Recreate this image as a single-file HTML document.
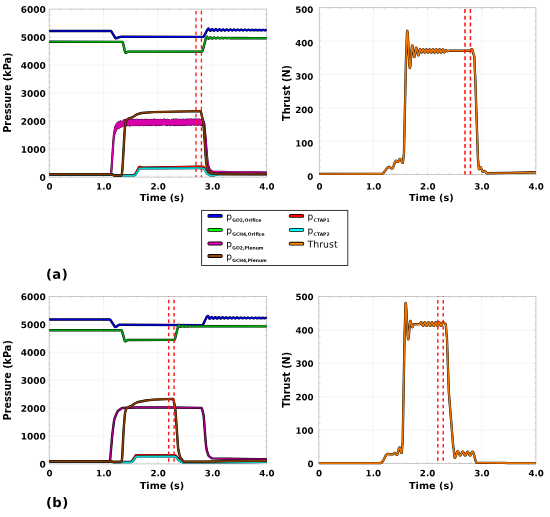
<!DOCTYPE html>
<html><head><meta charset="utf-8"><title>Figure</title>
<style>html,body{margin:0;padding:0;background:#fff}svg{display:block}</style></head>
<body><svg width="550" height="517" viewBox="0 0 550 517">
<rect width="550" height="517" fill="#fff"/>
<path d="M103.58 9.10V177.10M157.95 9.10V177.10M212.32 9.10V177.10M49.20 149.10H266.70M49.20 121.10H266.70M49.20 93.10H266.70M49.20 65.10H266.70M49.20 37.10H266.70" stroke="#f3f3f3" stroke-width="0.8" fill="none"/>
<path d="M60.08 177.10v-1.6M60.08 9.10v1.6M70.95 177.10v-1.6M70.95 9.10v1.6M81.83 177.10v-1.6M81.83 9.10v1.6M92.70 177.10v-1.6M92.70 9.10v1.6M103.58 177.10v-1.6M103.58 9.10v1.6M114.45 177.10v-1.6M114.45 9.10v1.6M125.33 177.10v-1.6M125.33 9.10v1.6M136.20 177.10v-1.6M136.20 9.10v1.6M147.07 177.10v-1.6M147.07 9.10v1.6M157.95 177.10v-1.6M157.95 9.10v1.6M168.83 177.10v-1.6M168.83 9.10v1.6M179.70 177.10v-1.6M179.70 9.10v1.6M190.57 177.10v-1.6M190.57 9.10v1.6M201.45 177.10v-1.6M201.45 9.10v1.6M212.32 177.10v-1.6M212.32 9.10v1.6M223.20 177.10v-1.6M223.20 9.10v1.6M234.08 177.10v-1.6M234.08 9.10v1.6M244.95 177.10v-1.6M244.95 9.10v1.6M255.83 177.10v-1.6M255.83 9.10v1.6M49.20 171.50h1.6M266.70 171.50h-1.6M49.20 165.90h1.6M266.70 165.90h-1.6M49.20 160.30h1.6M266.70 160.30h-1.6M49.20 154.70h1.6M266.70 154.70h-1.6M49.20 149.10h1.6M266.70 149.10h-1.6M49.20 143.50h1.6M266.70 143.50h-1.6M49.20 137.90h1.6M266.70 137.90h-1.6M49.20 132.30h1.6M266.70 132.30h-1.6M49.20 126.70h1.6M266.70 126.70h-1.6M49.20 121.10h1.6M266.70 121.10h-1.6M49.20 115.50h1.6M266.70 115.50h-1.6M49.20 109.90h1.6M266.70 109.90h-1.6M49.20 104.30h1.6M266.70 104.30h-1.6M49.20 98.70h1.6M266.70 98.70h-1.6M49.20 93.10h1.6M266.70 93.10h-1.6M49.20 87.50h1.6M266.70 87.50h-1.6M49.20 81.90h1.6M266.70 81.90h-1.6M49.20 76.30h1.6M266.70 76.30h-1.6M49.20 70.70h1.6M266.70 70.70h-1.6M49.20 65.10h1.6M266.70 65.10h-1.6M49.20 59.50h1.6M266.70 59.50h-1.6M49.20 53.90h1.6M266.70 53.90h-1.6M49.20 48.30h1.6M266.70 48.30h-1.6M49.20 42.70h1.6M266.70 42.70h-1.6M49.20 37.10h1.6M266.70 37.10h-1.6M49.20 31.50h1.6M266.70 31.50h-1.6M49.20 25.90h1.6M266.70 25.90h-1.6M49.20 20.30h1.6M266.70 20.30h-1.6M49.20 14.70h1.6M266.70 14.70h-1.6" stroke="#b8b8b8" stroke-width="0.6" fill="none"/>
<rect x="49.20" y="9.10" width="217.50" height="168.00" fill="none" stroke="#bcbcbc" stroke-width="0.8"/>
<path d="M49.20 31L110.64 31.01L111.08 31.14L111.51 31.60L115.10 37.72L115.54 38.23L115.86 38.33L116.30 38.24L120.11 36.94L120.98 36.82L203.08 36.89L203.52 36.74L203.95 36.22L207.43 29.60L207.65 29.34L207.87 29.22L208.08 29.21L208.41 29.33L208.52 28.48L208.95 28.94L209.82 30.42L210.15 30.71L210.37 30.75L210.58 30.68L210.80 30.49L211.67 29.37L211.89 29.19L212.11 29.11L212.32 29.14L212.54 29.28L213.52 30.46L213.74 30.62L213.96 30.68L214.17 30.64L214.39 30.50L215.37 29.39L215.59 29.25L215.81 29.20L216.02 29.26L216.24 29.40L217.22 30.46L217.44 30.59L217.65 30.62L218.09 30.41L218.96 29.49L219.39 29.28L219.61 29.31L219.83 29.43L220.81 30.38L221.24 30.57L221.68 30.42L222.66 29.51L223.09 29.36L223.53 29.52L224.50 30.39L224.94 30.52L225.27 30.42L226.25 29.60L226.68 29.42L227.12 29.54L228.09 30.33L228.53 30.49L228.96 30.36L229.94 29.61L230.38 29.48L230.81 29.62L231.79 30.34L232.23 30.45L232.66 30.31L233.53 29.68L233.97 29.54L234.40 29.63L235.38 30.30L235.81 30.43L236.25 30.32L237.23 29.69L237.66 29.58L238.10 29.70L239.08 30.31L239.51 30.41L239.95 30.29L240.82 29.75L241.25 29.63L241.69 29.71L242.67 30.28L243.10 30.39L243.54 30.30L244.51 29.76L244.95 29.67L245.38 29.77L246.36 30.30L246.80 30.38L247.23 30.27L248.10 29.81L248.54 29.70L248.97 29.78L249.95 30.27L250.39 30.37L250.82 30.29L251.80 29.82L252.24 29.74L252.67 29.82L253.65 30.29L254.09 30.36L254.52 30.27L255.39 29.86L255.83 29.77L256.26 29.83L257.24 30.27L257.67 30.36L258.11 30.29L258.98 29.91L259.41 29.80L259.85 29.84L260.94 30.29L261.37 30.35L261.81 30.27L262.57 29.95L263 29.83L263.55 29.88L264.52 30.27L264.96 30.35L265.39 30.29L266.26 29.95L266.70 29.85" fill="none" stroke="#000" stroke-width="2.40" stroke-linejoin="round" stroke-linecap="butt"/><path d="M49.20 31L110.64 31.01L111.08 31.14L111.51 31.60L115.10 37.72L115.54 38.23L115.86 38.33L116.30 38.24L120.11 36.94L120.98 36.82L203.08 36.89L203.52 36.74L203.95 36.22L207.43 29.60L207.65 29.34L207.87 29.22L208.08 29.21L208.41 29.33L208.52 28.48L208.95 28.94L209.82 30.42L210.15 30.71L210.37 30.75L210.58 30.68L210.80 30.49L211.67 29.37L211.89 29.19L212.11 29.11L212.32 29.14L212.54 29.28L213.52 30.46L213.74 30.62L213.96 30.68L214.17 30.64L214.39 30.50L215.37 29.39L215.59 29.25L215.81 29.20L216.02 29.26L216.24 29.40L217.22 30.46L217.44 30.59L217.65 30.62L218.09 30.41L218.96 29.49L219.39 29.28L219.61 29.31L219.83 29.43L220.81 30.38L221.24 30.57L221.68 30.42L222.66 29.51L223.09 29.36L223.53 29.52L224.50 30.39L224.94 30.52L225.27 30.42L226.25 29.60L226.68 29.42L227.12 29.54L228.09 30.33L228.53 30.49L228.96 30.36L229.94 29.61L230.38 29.48L230.81 29.62L231.79 30.34L232.23 30.45L232.66 30.31L233.53 29.68L233.97 29.54L234.40 29.63L235.38 30.30L235.81 30.43L236.25 30.32L237.23 29.69L237.66 29.58L238.10 29.70L239.08 30.31L239.51 30.41L239.95 30.29L240.82 29.75L241.25 29.63L241.69 29.71L242.67 30.28L243.10 30.39L243.54 30.30L244.51 29.76L244.95 29.67L245.38 29.77L246.36 30.30L246.80 30.38L247.23 30.27L248.10 29.81L248.54 29.70L248.97 29.78L249.95 30.27L250.39 30.37L250.82 30.29L251.80 29.82L252.24 29.74L252.67 29.82L253.65 30.29L254.09 30.36L254.52 30.27L255.39 29.86L255.83 29.77L256.26 29.83L257.24 30.27L257.67 30.36L258.11 30.29L258.98 29.91L259.41 29.80L259.85 29.84L260.94 30.29L261.37 30.35L261.81 30.27L262.57 29.95L263 29.83L263.55 29.88L264.52 30.27L264.96 30.35L265.39 30.29L266.26 29.95L266.70 29.85" fill="none" stroke="#0000d8" stroke-width="1.60" stroke-linejoin="round" stroke-linecap="butt"/>

<path d="M49.20 41.80L122.17 41.83L122.39 41.92L122.61 42.16L122.93 42.95L125 51.52L125.33 52.43L125.54 52.71L125.76 52.76L126.09 52.65L127.83 51.75L128.26 51.63L128.70 51.60L201.99 51.44L202.21 51.36L202.43 51.14L202.86 50.05L205.91 38.19L206.13 37.68L206.34 37.42L206.56 37.37L206.78 37.43L206.89 36.63L207.32 37.09L208.19 38.45L208.41 38.63L208.63 38.71L208.85 38.69L209.06 38.57L210.04 37.58L210.48 37.39L210.91 37.53L211.89 38.40L212.32 38.54L212.76 38.41L213.74 37.67L214.17 37.56L214.50 37.64L215.48 38.28L215.91 38.42L216.35 38.34L217.33 37.79L217.76 37.69L218.20 37.77L219.18 38.25L219.61 38.34L220.05 38.26L221.03 37.85L221.46 37.79L221.79 37.83L222.76 38.20L223.20 38.28L223.63 38.24L224.61 37.92L225.05 37.86L225.48 37.91L226.46 38.20L226.90 38.25L228.75 37.91L230.49 38.23L232.33 37.96L234.18 38.22L236.03 37.99L237.77 38.21L239.62 38.02L241.47 38.21L243.32 38.05L245.06 38.22L246.91 38.07L248.76 38.22L250.61 38.09L252.35 38.23L254.19 38.11L256.04 38.24L257.89 38.12L259.63 38.25L261.48 38.14L263.22 38.27L265.18 38.15L266.70 38.27" fill="none" stroke="#000" stroke-width="2.40" stroke-linejoin="round" stroke-linecap="butt"/><path d="M49.20 41.80L122.17 41.83L122.39 41.92L122.61 42.16L122.93 42.95L125 51.52L125.33 52.43L125.54 52.71L125.76 52.76L126.09 52.65L127.83 51.75L128.26 51.63L128.70 51.60L201.99 51.44L202.21 51.36L202.43 51.14L202.86 50.05L205.91 38.19L206.13 37.68L206.34 37.42L206.56 37.37L206.78 37.43L206.89 36.63L207.32 37.09L208.19 38.45L208.41 38.63L208.63 38.71L208.85 38.69L209.06 38.57L210.04 37.58L210.48 37.39L210.91 37.53L211.89 38.40L212.32 38.54L212.76 38.41L213.74 37.67L214.17 37.56L214.50 37.64L215.48 38.28L215.91 38.42L216.35 38.34L217.33 37.79L217.76 37.69L218.20 37.77L219.18 38.25L219.61 38.34L220.05 38.26L221.03 37.85L221.46 37.79L221.79 37.83L222.76 38.20L223.20 38.28L223.63 38.24L224.61 37.92L225.05 37.86L225.48 37.91L226.46 38.20L226.90 38.25L228.75 37.91L230.49 38.23L232.33 37.96L234.18 38.22L236.03 37.99L237.77 38.21L239.62 38.02L241.47 38.21L243.32 38.05L245.06 38.22L246.91 38.07L248.76 38.22L250.61 38.09L252.35 38.23L254.19 38.11L256.04 38.24L257.89 38.12L259.63 38.25L261.48 38.14L263.22 38.27L265.18 38.15L266.70 38.27" fill="none" stroke="#00a810" stroke-width="1.60" stroke-linejoin="round" stroke-linecap="butt"/>

<path d="M49.20 174.30L110.64 174.30L111.41 174.36L114.02 174.90L114.78 174.99L133.48 174.99L133.92 174.93L134.24 174.77L135 174.15L135.44 173.67L135.98 172.78L138.81 167.38L139.14 166.93L139.46 166.75L139.90 166.77L142.51 167.38L143.27 167.43L201.02 166.53L201.78 166.58L203.41 166.88L204.06 167.12L204.60 167.76L206.45 170.77L207.11 171.67L209.28 173.70L209.71 173.96L210.26 174.09L212.87 174.30L266.70 174.30" fill="none" stroke="#000" stroke-width="2.10" stroke-linejoin="round" stroke-linecap="butt"/><path d="M49.20 174.30L110.64 174.30L111.41 174.36L114.02 174.90L114.78 174.99L133.48 174.99L133.92 174.93L134.24 174.77L135 174.15L135.44 173.67L135.98 172.78L138.81 167.38L139.14 166.93L139.46 166.75L139.90 166.77L142.51 167.38L143.27 167.43L201.02 166.53L201.78 166.58L203.41 166.88L204.06 167.12L204.60 167.76L206.45 170.77L207.11 171.67L209.28 173.70L209.71 173.96L210.26 174.09L212.87 174.30L266.70 174.30" fill="none" stroke="#f00000" stroke-width="1.60" stroke-linejoin="round" stroke-linecap="butt"/>

<path d="M49.20 174.30L110.64 174.30L111.41 174.40L114.02 175.39L114.78 175.55L133.59 175.55L134.03 175.48L134.46 175.29L135.22 174.83L135.66 174.45L136.20 173.69L139.14 168.94L139.57 168.50L140.01 168.37L200.80 168.09L201.99 168.21L203.62 168.59L204.06 168.79L204.60 169.45L206.67 172.90L207.21 173.66L207.76 174.08L209.61 175.16L210.04 175.37L210.48 175.46L213.96 175.44L218.42 174.31L219.29 174.19L266.70 174.13" fill="none" stroke="#000" stroke-width="2.10" stroke-linejoin="round" stroke-linecap="butt"/><path d="M49.20 174.30L110.64 174.30L111.41 174.40L114.02 175.39L114.78 175.55L133.59 175.55L134.03 175.48L134.46 175.29L135.22 174.83L135.66 174.45L136.20 173.69L139.14 168.94L139.57 168.50L140.01 168.37L200.80 168.09L201.99 168.21L203.62 168.59L204.06 168.79L204.60 169.45L206.67 172.90L207.21 173.66L207.76 174.08L209.61 175.16L210.04 175.37L210.48 175.46L213.96 175.44L218.42 174.31L219.29 174.19L266.70 174.13" fill="none" stroke="#00d4d4" stroke-width="1.70" stroke-linejoin="round" stroke-linecap="butt"/>

<path d="M49.20 174.30L109.99 174.30L110.43 174.28L110.64 174.21L110.86 173.90L111.08 173.06L111.41 170.25L113.25 143.43L113.36 141L113.47 139.50L113.58 139.66L113.69 138.64L113.80 135.86L113.91 134.88L114.02 136.22L114.12 135.62L114.23 132.78L114.34 132.08L114.45 133.92L114.56 133.43L114.67 130.32L114.78 129.74L114.89 132.30L114.99 131.98L115.10 127.60L115.21 127.20L115.32 131.30L115.43 131.18L115.54 126.69L115.65 126.51L115.75 130.22L115.86 130.05L115.97 126.03L116.08 125.86L116.19 129.04L116.30 128.88L116.41 124.74L116.52 124.57L116.62 129.11L116.73 128.95L116.84 124.74L116.95 124.57L117.06 128.45L117.17 128.29L117.28 123.59L117.39 123.44L117.50 127.59L117.60 127.46L117.71 122.90L117.82 122.80L117.93 127.95L118.04 127.89L118.15 123.24L118.26 123.19L118.37 126.60L118.47 126.55L118.58 122.51L118.69 122.47L118.80 127.67L118.91 127.63L119.02 123.24L119.13 123.19L119.23 127.09L119.34 127.05L119.45 122.08L119.56 122.04L119.67 127.23L119.78 127.19L119.89 122.94L120 122.89L120.11 125.85L120.21 125.81L120.32 121.51L120.43 121.47L120.54 125.72L120.65 125.68L120.76 122.52L120.87 122.48L120.98 126.22L121.08 126.18L121.19 121.96L121.30 121.92L121.41 126.31L121.52 126.27L121.63 122.17L121.74 122.12L121.85 126.38L121.95 126.34L122.06 121.96L122.17 121.92L122.28 126L122.39 125.96L122.50 122.01L122.61 121.97L122.72 125.40L122.82 125.36L122.93 121.89L123.04 121.85L123.15 125L123.26 124.96L123.37 121.32L123.48 121.28L123.59 125.42L123.69 125.38L123.80 120.95L123.91 120.91L124.02 124.31L124.13 124.28L124.24 120.03L124.35 120.01L124.46 125.43L124.56 125.42L124.67 120.10L124.78 120.09L124.89 124.47L125 124.47L125.11 120.84L125.22 120.84L125.33 124.43L125.43 124.43L125.54 121.22L125.65 121.22L125.76 124.14L125.87 124.13L125.98 120.66L126.09 120.66L126.19 124.26L126.30 124.25L126.41 121.13L126.52 121.13L126.63 125.32L126.74 125.32L126.85 120.67L126.96 120.67L127.06 124.33L127.17 124.32L127.28 120.39L127.39 120.39L127.50 124.43L127.61 124.43L127.72 120.59L127.83 120.58L127.94 124.45L128.04 124.45L128.15 120.59L128.26 120.59L128.37 124.94L128.48 124.94L128.59 120.55L128.70 120.55L128.81 124.59L128.91 124.59L129.02 120.17L129.13 120.17L129.24 125.28L129.35 125.28L129.46 121.05L129.57 121.05L129.68 124.20L129.78 124.19L129.89 121.14L130 121.14L130.11 125.41L130.22 125.41L130.33 119.92L130.44 119.92L130.55 124.31L130.65 124.31L130.76 119.87L130.87 119.87L130.98 124.27L131.09 124.27L131.20 120.54L131.31 120.53L131.42 124.68L131.52 124.68L131.63 119.93L131.74 119.93L131.85 124L131.96 124L132.07 120.79L132.18 120.79L132.29 124.81L132.39 124.81L132.50 121.15L132.61 121.14L132.72 124.27L132.83 124.27L132.94 120.56L133.05 120.55L133.16 125.20L133.26 125.20L133.37 120.11L133.48 120.11L133.59 125.11L133.70 125.11L133.81 120.10L133.92 120.10L134.03 124.93L134.13 124.92L134.24 119.96L134.35 119.96L134.46 124.88L134.57 124.87L134.68 120.12L134.79 120.12L134.90 124.31L135 124.31L135.11 120.94L135.22 120.93L135.33 124.97L135.44 124.96L135.55 120.93L135.66 120.93L135.76 125.19L135.87 125.19L135.98 120.29L136.09 120.29L136.20 124.33L136.31 124.32L136.42 119.79L136.53 119.79L136.63 124.07L136.74 124.07L136.85 120.40L136.96 120.40L137.07 123.97L137.18 123.97L137.29 119.75L137.40 119.75L137.50 124.68L137.61 124.68L137.72 119.98L137.83 119.98L137.94 124.25L138.05 124.25L138.16 119.98L138.27 119.98L138.38 124.86L138.48 124.86L138.59 120.21L138.70 120.21L138.81 125.22L138.92 125.22L139.03 120.51L139.14 120.51L139.25 124.44L139.35 124.43L139.46 120.13L139.57 120.13L139.68 125.04L139.79 125.04L139.90 120.65L140.01 120.65L140.12 124.80L140.22 124.80L140.33 120.83L140.44 120.83L140.55 124.63L140.66 124.63L140.77 120.02L140.88 120.02L140.99 123.92L141.09 123.92L141.20 120.07L141.31 120.07L141.42 123.84L141.53 123.84L141.64 119.74L141.75 119.74L141.86 124.50L141.96 124.50L142.07 120.54L142.18 120.53L142.29 124.87L142.40 124.87L142.51 120.37L142.62 120.37L142.72 124.88L142.83 124.88L142.94 121L143.05 121L143.16 124.63L143.27 124.63L143.38 120.31L143.49 120.31L143.59 125.17L143.70 125.17L143.81 121.07L143.92 121.07L144.03 124.47L144.14 124.47L144.25 120.20L144.36 120.20L144.47 124.61L144.57 124.61L144.68 121.01L144.79 121.01L144.90 124.67L145.01 124.67L145.12 120.79L145.23 120.79L145.34 124.09L145.44 124.09L145.55 119.84L145.66 119.84L145.77 124.09L145.88 124.09L145.99 120.45L146.10 120.45L146.20 124.89L146.31 124.89L146.42 120.08L146.53 120.08L146.64 124.61L146.75 124.60L146.86 119.94L146.97 119.93L147.07 124.48L147.18 124.48L147.29 120.21L147.40 120.20L147.51 124.99L147.62 124.99L147.73 120.12L147.84 120.12L147.94 124.73L148.05 124.73L148.16 120.51L148.27 120.51L148.38 124.60L148.49 124.60L148.60 120.53L148.71 120.53L148.81 124.87L148.92 124.87L149.03 120.55L149.14 120.55L149.25 124.47L149.36 124.47L149.47 120L149.58 120L149.69 124.52L149.79 124.52L149.90 120.61L150.01 120.60L150.12 124.99L150.23 124.99L150.34 120.54L150.45 120.54L150.56 125.01L150.66 125.01L150.77 119.95L150.88 119.95L150.99 124.43L151.10 124.43L151.21 120.05L151.32 120.05L151.43 123.83L151.53 123.83L151.64 120.52L151.75 120.52L151.86 125.03L151.97 125.03L152.08 120.24L152.19 120.24L152.30 124.59L152.40 124.59L152.51 120.12L152.62 120.12L152.73 124.76L152.84 124.76L152.95 120.23L153.06 120.23L153.17 124.38L153.27 124.38L153.38 120.82L153.49 120.81L153.60 124.20L153.71 124.19L153.82 120.65L153.93 120.65L154.03 124.39L154.14 124.39L154.25 119.62L154.36 119.62L154.47 124.28L154.58 124.28L154.69 120.43L154.80 120.42L154.91 124.30L155.01 124.30L155.12 120.23L155.23 120.23L155.34 125.14L155.45 125.14L155.56 119.78L155.67 119.78L155.78 124.31L155.88 124.31L155.99 120.68L156.10 120.68L156.21 125.05L156.32 125.05L156.43 120.35L156.54 120.35L156.64 124.75L156.75 124.75L156.86 120.96L156.97 120.96L157.08 125.02L157.19 125.02L157.30 120.61L157.41 120.61L157.51 124.47L157.62 124.47L157.73 120.78L157.84 120.77L157.95 124.36L158.06 124.36L158.17 119.86L158.28 119.86L158.38 124.95L158.49 124.95L158.60 120.37L158.71 120.37L158.82 124.87L158.93 124.86L159.04 120.39L159.15 120.39L159.25 124.29L159.36 124.29L159.47 120.26L159.58 120.26L159.69 124.04L159.80 124.04L159.91 120.59L160.02 120.59L160.12 124.77L160.23 124.77L160.34 119.93L160.45 119.93L160.56 123.82L160.67 123.82L160.78 119.98L160.89 119.98L161 124.93L161.10 124.93L161.21 120.40L161.32 120.40L161.43 123.83L161.54 123.83L161.65 120.05L161.76 120.05L161.87 124.09L161.97 124.09L162.08 120.11L162.19 120.11L162.30 124.28L162.41 124.28L162.52 120.12L162.63 120.11L162.74 124.11L162.84 124.11L162.95 120.35L163.06 120.35L163.17 124.49L163.28 124.49L163.39 120.12L163.50 120.12L163.61 124.02L163.71 124.02L163.82 119.64L163.93 119.64L164.04 124.15L164.15 124.15L164.26 120.59L164.37 120.59L164.48 124.10L164.58 124.10L164.69 120.94L164.80 120.94L164.91 124.34L165.02 124.34L165.13 119.91L165.24 119.91L165.35 124.75L165.45 124.75L165.56 120.75L165.67 120.74L165.78 123.92L165.89 123.92L166 120.56L166.11 120.56L166.22 124.83L166.32 124.83L166.43 120.32L166.54 120.32L166.65 125.06L166.76 125.06L166.87 120.07L166.98 120.07L167.09 124.62L167.19 124.62L167.30 119.90L167.41 119.90L167.52 124.80L167.63 124.80L167.74 120.52L167.85 120.52L167.96 124.08L168.06 124.08L168.17 120.38L168.28 120.38L168.39 124.42L168.50 124.42L168.61 120.81L168.72 120.81L168.83 124.35L168.93 124.35L169.04 120.08L169.15 120.08L169.26 123.90L169.37 123.90L169.48 120.81L169.59 120.81L169.69 123.95L169.80 123.95L169.91 120.60L170.02 120.60L170.13 125.10L170.24 125.10L170.35 120.97L170.46 120.97L170.56 123.96L170.67 123.96L170.78 120.77L170.89 120.77L171 124.39L171.11 124.38L171.22 120.98L171.33 120.98L171.44 124.36L171.54 124.36L171.65 120.77L171.76 120.77L171.87 124.08L171.98 124.08L172.09 119.85L172.20 119.85L172.31 123.96L172.41 123.96L172.52 120.10L172.63 120.10L172.74 124.28L172.85 124.28L172.96 120.39L173.07 120.39L173.18 124.87L173.28 124.87L173.39 120.76L173.50 120.76L173.61 125.03L173.72 125.03L173.83 119.69L173.94 119.69L174.05 124.65L174.15 124.65L174.26 120.92L174.37 120.92L174.48 124.65L174.59 124.65L174.70 120.12L174.81 120.12L174.91 124.80L175.02 124.80L175.13 120.68L175.24 120.68L175.35 125.06L175.46 125.06L175.57 119.70L175.68 119.70L175.78 123.84L175.89 123.84L176 120.53L176.11 120.53L176.22 123.72L176.33 123.72L176.44 119.77L176.55 119.77L176.66 125L176.76 125L176.87 119.54L176.98 119.54L177.09 124.56L177.20 124.56L177.31 120.01L177.42 120.01L177.52 124.65L177.63 124.65L177.74 120.15L177.85 120.15L177.96 125.05L178.07 125.05L178.18 120.09L178.29 120.09L178.39 124.15L178.50 124.15L178.61 120.23L178.72 120.23L178.83 123.69L178.94 123.69L179.05 119.92L179.16 119.92L179.26 124.67L179.37 124.67L179.48 120.36L179.59 120.36L179.70 124.90L179.81 124.90L179.92 119.87L180.03 119.87L180.13 124.15L180.24 124.15L180.35 120.85L180.46 120.85L180.57 123.85L180.68 123.85L180.79 120.70L180.90 120.70L181 124.09L181.11 124.09L181.22 120.31L181.33 120.31L181.44 125L181.55 125L181.66 120.56L181.77 120.56L181.88 124.96L181.98 124.96L182.09 119.97L182.20 119.97L182.31 124.89L182.42 124.89L182.53 120.37L182.64 120.37L182.75 123.65L182.85 123.65L182.96 119.81L183.07 119.81L183.18 124L183.29 124L183.40 120.75L183.51 120.75L183.62 124.80L183.72 124.80L183.83 119.95L183.94 119.95L184.05 123.95L184.16 123.95L184.27 120.56L184.38 120.56L184.49 125L184.59 125L184.70 120.56L184.81 120.56L184.92 124.66L185.03 124.66L185.14 120.76L185.25 120.76L185.36 124.82L185.46 124.82L185.57 120.77L185.68 120.77L185.79 124.38L185.90 124.38L186.01 120.89L186.12 120.89L186.23 124.43L186.33 124.43L186.44 119.71L186.55 119.71L186.66 123.75L186.77 123.75L186.88 120.54L186.99 120.54L187.10 124.74L187.20 124.74L187.31 120.05L187.42 120.05L187.53 124.08L187.64 124.08L187.75 120.02L187.86 120.02L187.97 124.28L188.07 124.28L188.18 119.68L188.29 119.68L188.40 124.05L188.51 124.05L188.62 119.83L188.73 119.83L188.83 124.54L188.94 124.54L189.05 119.85L189.16 119.85L189.27 124.17L189.38 124.17L189.49 119.87L189.60 119.87L189.70 124.63L189.81 124.63L189.92 120.36L190.03 120.36L190.14 123.65L190.25 123.65L190.36 119.52L190.47 119.52L190.57 124.65L190.68 124.65L190.79 120.62L190.90 120.62L191.01 124.67L191.12 124.67L191.23 120.51L191.34 120.51L191.44 124.29L191.55 124.29L191.66 119.67L191.77 119.67L191.88 124.26L191.99 124.26L192.10 120.50L192.21 120.50L192.31 124.05L192.42 124.05L192.53 120.80L192.64 120.80L192.75 123.92L192.86 123.92L192.97 120.52L193.08 120.52L193.19 123.85L193.29 123.85L193.40 120.82L193.51 120.82L193.62 124.28L193.73 124.28L193.84 120.60L193.95 120.60L194.06 124.67L194.16 124.67L194.27 119.56L194.38 119.56L194.49 123.99L194.60 123.99L194.71 120.07L194.82 120.07L194.93 124.33L195.03 124.33L195.14 120.79L195.25 120.79L195.36 123.77L195.47 123.77L195.58 119.61L195.69 119.61L195.80 124.28L195.90 124.28L196.01 119.73L196.12 119.73L196.23 123.68L196.34 123.68L196.45 120.03L196.56 120.03L196.67 124.84L196.77 124.84L196.88 119.63L196.99 119.63L197.10 123.59L197.21 123.59L197.32 120.13L197.43 120.13L197.54 124.12L197.64 124.12L197.75 119.79L197.86 119.78L197.97 123.69L198.08 123.69L198.19 120.50L198.30 120.50L198.41 124.76L198.51 124.76L198.62 120.20L198.73 120.20L198.84 124.23L198.95 124.23L199.06 119.48L199.17 119.48L199.28 124.04L199.38 124.04L199.49 120.82L199.60 120.82L199.71 124.14L199.82 124.14L199.93 120.66L200.04 120.66L200.15 123.69L200.25 123.69L200.36 120.05L200.47 120.05L200.58 124.96L200.69 124.96L200.80 120.04L200.91 120.04L201.02 124.52L201.12 124.52L201.23 120.43L201.34 120.45L201.45 124.47L201.56 124.51L201.67 119.94L201.78 119.99L201.88 124.69L201.99 124.75L202.10 120.10L202.21 120.16L202.32 124.88L202.43 124.95L202.54 121.23L202.65 121.30L202.75 125.19L202.86 125.25L202.97 121.07L203.08 121.13L203.19 124.84L203.30 124.91L203.41 121.14L203.52 121.21L203.62 126.07L203.73 126.01L203.84 122.45L203.95 122.75L204.06 125.85L204.17 126.12L204.28 123.81L204.39 124.69L204.50 127.74L204.60 128.59L204.71 128.32L204.93 131.58L205.15 133.47L205.69 139.76L207.11 157.37L207.54 161.86L207.87 163.91L208.41 165.93L209.39 168.99L209.71 169.67L210.04 170.05L212.11 171.34L212.54 171.48L213.09 171.53L228.86 172.06L266.70 172.48" fill="none" stroke="#000" stroke-width="2.20" stroke-linejoin="round" stroke-linecap="butt"/><path d="M49.20 174.30L109.99 174.30L110.43 174.28L110.64 174.21L110.86 173.90L111.08 173.06L111.41 170.25L113.25 143.43L113.36 141L113.47 139.50L113.58 139.66L113.69 138.64L113.80 135.86L113.91 134.88L114.02 136.22L114.12 135.62L114.23 132.78L114.34 132.08L114.45 133.92L114.56 133.43L114.67 130.32L114.78 129.74L114.89 132.30L114.99 131.98L115.10 127.60L115.21 127.20L115.32 131.30L115.43 131.18L115.54 126.69L115.65 126.51L115.75 130.22L115.86 130.05L115.97 126.03L116.08 125.86L116.19 129.04L116.30 128.88L116.41 124.74L116.52 124.57L116.62 129.11L116.73 128.95L116.84 124.74L116.95 124.57L117.06 128.45L117.17 128.29L117.28 123.59L117.39 123.44L117.50 127.59L117.60 127.46L117.71 122.90L117.82 122.80L117.93 127.95L118.04 127.89L118.15 123.24L118.26 123.19L118.37 126.60L118.47 126.55L118.58 122.51L118.69 122.47L118.80 127.67L118.91 127.63L119.02 123.24L119.13 123.19L119.23 127.09L119.34 127.05L119.45 122.08L119.56 122.04L119.67 127.23L119.78 127.19L119.89 122.94L120 122.89L120.11 125.85L120.21 125.81L120.32 121.51L120.43 121.47L120.54 125.72L120.65 125.68L120.76 122.52L120.87 122.48L120.98 126.22L121.08 126.18L121.19 121.96L121.30 121.92L121.41 126.31L121.52 126.27L121.63 122.17L121.74 122.12L121.85 126.38L121.95 126.34L122.06 121.96L122.17 121.92L122.28 126L122.39 125.96L122.50 122.01L122.61 121.97L122.72 125.40L122.82 125.36L122.93 121.89L123.04 121.85L123.15 125L123.26 124.96L123.37 121.32L123.48 121.28L123.59 125.42L123.69 125.38L123.80 120.95L123.91 120.91L124.02 124.31L124.13 124.28L124.24 120.03L124.35 120.01L124.46 125.43L124.56 125.42L124.67 120.10L124.78 120.09L124.89 124.47L125 124.47L125.11 120.84L125.22 120.84L125.33 124.43L125.43 124.43L125.54 121.22L125.65 121.22L125.76 124.14L125.87 124.13L125.98 120.66L126.09 120.66L126.19 124.26L126.30 124.25L126.41 121.13L126.52 121.13L126.63 125.32L126.74 125.32L126.85 120.67L126.96 120.67L127.06 124.33L127.17 124.32L127.28 120.39L127.39 120.39L127.50 124.43L127.61 124.43L127.72 120.59L127.83 120.58L127.94 124.45L128.04 124.45L128.15 120.59L128.26 120.59L128.37 124.94L128.48 124.94L128.59 120.55L128.70 120.55L128.81 124.59L128.91 124.59L129.02 120.17L129.13 120.17L129.24 125.28L129.35 125.28L129.46 121.05L129.57 121.05L129.68 124.20L129.78 124.19L129.89 121.14L130 121.14L130.11 125.41L130.22 125.41L130.33 119.92L130.44 119.92L130.55 124.31L130.65 124.31L130.76 119.87L130.87 119.87L130.98 124.27L131.09 124.27L131.20 120.54L131.31 120.53L131.42 124.68L131.52 124.68L131.63 119.93L131.74 119.93L131.85 124L131.96 124L132.07 120.79L132.18 120.79L132.29 124.81L132.39 124.81L132.50 121.15L132.61 121.14L132.72 124.27L132.83 124.27L132.94 120.56L133.05 120.55L133.16 125.20L133.26 125.20L133.37 120.11L133.48 120.11L133.59 125.11L133.70 125.11L133.81 120.10L133.92 120.10L134.03 124.93L134.13 124.92L134.24 119.96L134.35 119.96L134.46 124.88L134.57 124.87L134.68 120.12L134.79 120.12L134.90 124.31L135 124.31L135.11 120.94L135.22 120.93L135.33 124.97L135.44 124.96L135.55 120.93L135.66 120.93L135.76 125.19L135.87 125.19L135.98 120.29L136.09 120.29L136.20 124.33L136.31 124.32L136.42 119.79L136.53 119.79L136.63 124.07L136.74 124.07L136.85 120.40L136.96 120.40L137.07 123.97L137.18 123.97L137.29 119.75L137.40 119.75L137.50 124.68L137.61 124.68L137.72 119.98L137.83 119.98L137.94 124.25L138.05 124.25L138.16 119.98L138.27 119.98L138.38 124.86L138.48 124.86L138.59 120.21L138.70 120.21L138.81 125.22L138.92 125.22L139.03 120.51L139.14 120.51L139.25 124.44L139.35 124.43L139.46 120.13L139.57 120.13L139.68 125.04L139.79 125.04L139.90 120.65L140.01 120.65L140.12 124.80L140.22 124.80L140.33 120.83L140.44 120.83L140.55 124.63L140.66 124.63L140.77 120.02L140.88 120.02L140.99 123.92L141.09 123.92L141.20 120.07L141.31 120.07L141.42 123.84L141.53 123.84L141.64 119.74L141.75 119.74L141.86 124.50L141.96 124.50L142.07 120.54L142.18 120.53L142.29 124.87L142.40 124.87L142.51 120.37L142.62 120.37L142.72 124.88L142.83 124.88L142.94 121L143.05 121L143.16 124.63L143.27 124.63L143.38 120.31L143.49 120.31L143.59 125.17L143.70 125.17L143.81 121.07L143.92 121.07L144.03 124.47L144.14 124.47L144.25 120.20L144.36 120.20L144.47 124.61L144.57 124.61L144.68 121.01L144.79 121.01L144.90 124.67L145.01 124.67L145.12 120.79L145.23 120.79L145.34 124.09L145.44 124.09L145.55 119.84L145.66 119.84L145.77 124.09L145.88 124.09L145.99 120.45L146.10 120.45L146.20 124.89L146.31 124.89L146.42 120.08L146.53 120.08L146.64 124.61L146.75 124.60L146.86 119.94L146.97 119.93L147.07 124.48L147.18 124.48L147.29 120.21L147.40 120.20L147.51 124.99L147.62 124.99L147.73 120.12L147.84 120.12L147.94 124.73L148.05 124.73L148.16 120.51L148.27 120.51L148.38 124.60L148.49 124.60L148.60 120.53L148.71 120.53L148.81 124.87L148.92 124.87L149.03 120.55L149.14 120.55L149.25 124.47L149.36 124.47L149.47 120L149.58 120L149.69 124.52L149.79 124.52L149.90 120.61L150.01 120.60L150.12 124.99L150.23 124.99L150.34 120.54L150.45 120.54L150.56 125.01L150.66 125.01L150.77 119.95L150.88 119.95L150.99 124.43L151.10 124.43L151.21 120.05L151.32 120.05L151.43 123.83L151.53 123.83L151.64 120.52L151.75 120.52L151.86 125.03L151.97 125.03L152.08 120.24L152.19 120.24L152.30 124.59L152.40 124.59L152.51 120.12L152.62 120.12L152.73 124.76L152.84 124.76L152.95 120.23L153.06 120.23L153.17 124.38L153.27 124.38L153.38 120.82L153.49 120.81L153.60 124.20L153.71 124.19L153.82 120.65L153.93 120.65L154.03 124.39L154.14 124.39L154.25 119.62L154.36 119.62L154.47 124.28L154.58 124.28L154.69 120.43L154.80 120.42L154.91 124.30L155.01 124.30L155.12 120.23L155.23 120.23L155.34 125.14L155.45 125.14L155.56 119.78L155.67 119.78L155.78 124.31L155.88 124.31L155.99 120.68L156.10 120.68L156.21 125.05L156.32 125.05L156.43 120.35L156.54 120.35L156.64 124.75L156.75 124.75L156.86 120.96L156.97 120.96L157.08 125.02L157.19 125.02L157.30 120.61L157.41 120.61L157.51 124.47L157.62 124.47L157.73 120.78L157.84 120.77L157.95 124.36L158.06 124.36L158.17 119.86L158.28 119.86L158.38 124.95L158.49 124.95L158.60 120.37L158.71 120.37L158.82 124.87L158.93 124.86L159.04 120.39L159.15 120.39L159.25 124.29L159.36 124.29L159.47 120.26L159.58 120.26L159.69 124.04L159.80 124.04L159.91 120.59L160.02 120.59L160.12 124.77L160.23 124.77L160.34 119.93L160.45 119.93L160.56 123.82L160.67 123.82L160.78 119.98L160.89 119.98L161 124.93L161.10 124.93L161.21 120.40L161.32 120.40L161.43 123.83L161.54 123.83L161.65 120.05L161.76 120.05L161.87 124.09L161.97 124.09L162.08 120.11L162.19 120.11L162.30 124.28L162.41 124.28L162.52 120.12L162.63 120.11L162.74 124.11L162.84 124.11L162.95 120.35L163.06 120.35L163.17 124.49L163.28 124.49L163.39 120.12L163.50 120.12L163.61 124.02L163.71 124.02L163.82 119.64L163.93 119.64L164.04 124.15L164.15 124.15L164.26 120.59L164.37 120.59L164.48 124.10L164.58 124.10L164.69 120.94L164.80 120.94L164.91 124.34L165.02 124.34L165.13 119.91L165.24 119.91L165.35 124.75L165.45 124.75L165.56 120.75L165.67 120.74L165.78 123.92L165.89 123.92L166 120.56L166.11 120.56L166.22 124.83L166.32 124.83L166.43 120.32L166.54 120.32L166.65 125.06L166.76 125.06L166.87 120.07L166.98 120.07L167.09 124.62L167.19 124.62L167.30 119.90L167.41 119.90L167.52 124.80L167.63 124.80L167.74 120.52L167.85 120.52L167.96 124.08L168.06 124.08L168.17 120.38L168.28 120.38L168.39 124.42L168.50 124.42L168.61 120.81L168.72 120.81L168.83 124.35L168.93 124.35L169.04 120.08L169.15 120.08L169.26 123.90L169.37 123.90L169.48 120.81L169.59 120.81L169.69 123.95L169.80 123.95L169.91 120.60L170.02 120.60L170.13 125.10L170.24 125.10L170.35 120.97L170.46 120.97L170.56 123.96L170.67 123.96L170.78 120.77L170.89 120.77L171 124.39L171.11 124.38L171.22 120.98L171.33 120.98L171.44 124.36L171.54 124.36L171.65 120.77L171.76 120.77L171.87 124.08L171.98 124.08L172.09 119.85L172.20 119.85L172.31 123.96L172.41 123.96L172.52 120.10L172.63 120.10L172.74 124.28L172.85 124.28L172.96 120.39L173.07 120.39L173.18 124.87L173.28 124.87L173.39 120.76L173.50 120.76L173.61 125.03L173.72 125.03L173.83 119.69L173.94 119.69L174.05 124.65L174.15 124.65L174.26 120.92L174.37 120.92L174.48 124.65L174.59 124.65L174.70 120.12L174.81 120.12L174.91 124.80L175.02 124.80L175.13 120.68L175.24 120.68L175.35 125.06L175.46 125.06L175.57 119.70L175.68 119.70L175.78 123.84L175.89 123.84L176 120.53L176.11 120.53L176.22 123.72L176.33 123.72L176.44 119.77L176.55 119.77L176.66 125L176.76 125L176.87 119.54L176.98 119.54L177.09 124.56L177.20 124.56L177.31 120.01L177.42 120.01L177.52 124.65L177.63 124.65L177.74 120.15L177.85 120.15L177.96 125.05L178.07 125.05L178.18 120.09L178.29 120.09L178.39 124.15L178.50 124.15L178.61 120.23L178.72 120.23L178.83 123.69L178.94 123.69L179.05 119.92L179.16 119.92L179.26 124.67L179.37 124.67L179.48 120.36L179.59 120.36L179.70 124.90L179.81 124.90L179.92 119.87L180.03 119.87L180.13 124.15L180.24 124.15L180.35 120.85L180.46 120.85L180.57 123.85L180.68 123.85L180.79 120.70L180.90 120.70L181 124.09L181.11 124.09L181.22 120.31L181.33 120.31L181.44 125L181.55 125L181.66 120.56L181.77 120.56L181.88 124.96L181.98 124.96L182.09 119.97L182.20 119.97L182.31 124.89L182.42 124.89L182.53 120.37L182.64 120.37L182.75 123.65L182.85 123.65L182.96 119.81L183.07 119.81L183.18 124L183.29 124L183.40 120.75L183.51 120.75L183.62 124.80L183.72 124.80L183.83 119.95L183.94 119.95L184.05 123.95L184.16 123.95L184.27 120.56L184.38 120.56L184.49 125L184.59 125L184.70 120.56L184.81 120.56L184.92 124.66L185.03 124.66L185.14 120.76L185.25 120.76L185.36 124.82L185.46 124.82L185.57 120.77L185.68 120.77L185.79 124.38L185.90 124.38L186.01 120.89L186.12 120.89L186.23 124.43L186.33 124.43L186.44 119.71L186.55 119.71L186.66 123.75L186.77 123.75L186.88 120.54L186.99 120.54L187.10 124.74L187.20 124.74L187.31 120.05L187.42 120.05L187.53 124.08L187.64 124.08L187.75 120.02L187.86 120.02L187.97 124.28L188.07 124.28L188.18 119.68L188.29 119.68L188.40 124.05L188.51 124.05L188.62 119.83L188.73 119.83L188.83 124.54L188.94 124.54L189.05 119.85L189.16 119.85L189.27 124.17L189.38 124.17L189.49 119.87L189.60 119.87L189.70 124.63L189.81 124.63L189.92 120.36L190.03 120.36L190.14 123.65L190.25 123.65L190.36 119.52L190.47 119.52L190.57 124.65L190.68 124.65L190.79 120.62L190.90 120.62L191.01 124.67L191.12 124.67L191.23 120.51L191.34 120.51L191.44 124.29L191.55 124.29L191.66 119.67L191.77 119.67L191.88 124.26L191.99 124.26L192.10 120.50L192.21 120.50L192.31 124.05L192.42 124.05L192.53 120.80L192.64 120.80L192.75 123.92L192.86 123.92L192.97 120.52L193.08 120.52L193.19 123.85L193.29 123.85L193.40 120.82L193.51 120.82L193.62 124.28L193.73 124.28L193.84 120.60L193.95 120.60L194.06 124.67L194.16 124.67L194.27 119.56L194.38 119.56L194.49 123.99L194.60 123.99L194.71 120.07L194.82 120.07L194.93 124.33L195.03 124.33L195.14 120.79L195.25 120.79L195.36 123.77L195.47 123.77L195.58 119.61L195.69 119.61L195.80 124.28L195.90 124.28L196.01 119.73L196.12 119.73L196.23 123.68L196.34 123.68L196.45 120.03L196.56 120.03L196.67 124.84L196.77 124.84L196.88 119.63L196.99 119.63L197.10 123.59L197.21 123.59L197.32 120.13L197.43 120.13L197.54 124.12L197.64 124.12L197.75 119.79L197.86 119.78L197.97 123.69L198.08 123.69L198.19 120.50L198.30 120.50L198.41 124.76L198.51 124.76L198.62 120.20L198.73 120.20L198.84 124.23L198.95 124.23L199.06 119.48L199.17 119.48L199.28 124.04L199.38 124.04L199.49 120.82L199.60 120.82L199.71 124.14L199.82 124.14L199.93 120.66L200.04 120.66L200.15 123.69L200.25 123.69L200.36 120.05L200.47 120.05L200.58 124.96L200.69 124.96L200.80 120.04L200.91 120.04L201.02 124.52L201.12 124.52L201.23 120.43L201.34 120.45L201.45 124.47L201.56 124.51L201.67 119.94L201.78 119.99L201.88 124.69L201.99 124.75L202.10 120.10L202.21 120.16L202.32 124.88L202.43 124.95L202.54 121.23L202.65 121.30L202.75 125.19L202.86 125.25L202.97 121.07L203.08 121.13L203.19 124.84L203.30 124.91L203.41 121.14L203.52 121.21L203.62 126.07L203.73 126.01L203.84 122.45L203.95 122.75L204.06 125.85L204.17 126.12L204.28 123.81L204.39 124.69L204.50 127.74L204.60 128.59L204.71 128.32L204.93 131.58L205.15 133.47L205.69 139.76L207.11 157.37L207.54 161.86L207.87 163.91L208.41 165.93L209.39 168.99L209.71 169.67L210.04 170.05L212.11 171.34L212.54 171.48L213.09 171.53L228.86 172.06L266.70 172.48" fill="none" stroke="#d800aa" stroke-width="1.60" stroke-linejoin="round" stroke-linecap="butt"/>

<path d="M49.20 174.30L110.64 174.30L111.41 174.41L114.02 175.51L114.67 175.68L120.54 175.70L121.08 175.63L121.30 175.45L121.52 175.03L121.85 173.76L122.17 171.52L122.39 169.23L122.82 162.76L124.56 132.38L125.11 124.98L125.43 122.74L125.76 121.51L126.19 120.46L126.52 120.01L126.85 119.71L127.72 119.04L128.26 118.73L132.83 117.15L135.76 115.04L136.42 114.66L140.66 113.24L141.53 113.06L152.84 112.08L200.04 111.15L200.47 111.20L200.69 111.37L200.91 111.75L201.12 112.40L202.75 119.99L203.30 123.07L203.84 128.76L205.69 156.03L206.24 162.70L206.56 164.93L207 166.59L208.19 170.23L208.52 170.91L208.85 171.31L211.24 173.06L211.89 173.41L212.54 173.51L217.65 173.87L266.70 174.02" fill="none" stroke="#000" stroke-width="2.40" stroke-linejoin="round" stroke-linecap="butt"/><path d="M49.20 174.30L110.64 174.30L111.41 174.41L114.02 175.51L114.67 175.68L120.54 175.70L121.08 175.63L121.30 175.45L121.52 175.03L121.85 173.76L122.17 171.52L122.39 169.23L122.82 162.76L124.56 132.38L125.11 124.98L125.43 122.74L125.76 121.51L126.19 120.46L126.52 120.01L126.85 119.71L127.72 119.04L128.26 118.73L132.83 117.15L135.76 115.04L136.42 114.66L140.66 113.24L141.53 113.06L152.84 112.08L200.04 111.15L200.47 111.20L200.69 111.37L200.91 111.75L201.12 112.40L202.75 119.99L203.30 123.07L203.84 128.76L205.69 156.03L206.24 162.70L206.56 164.93L207 166.59L208.19 170.23L208.52 170.91L208.85 171.31L211.24 173.06L211.89 173.41L212.54 173.51L217.65 173.87L266.70 174.02" fill="none" stroke="#843c00" stroke-width="1.60" stroke-linejoin="round" stroke-linecap="butt"/>

<path d="M196.01 9.10V177.10" stroke="#ff1818" stroke-width="1.35" stroke-dasharray="3.65 3.20" stroke-dashoffset="5.05" fill="none"/>
<path d="M201.45 9.10V177.10" stroke="#ff1818" stroke-width="1.35" stroke-dasharray="3.65 3.20" stroke-dashoffset="5.05" fill="none"/>
<text transform="translate(45.80 180.68) rotate(0.03)" text-anchor="end" font-family="DejaVu Sans, Liberation Sans, sans-serif" font-weight="bold" font-size="9.0">0</text>
<text transform="translate(45.80 152.68) rotate(0.03)" text-anchor="end" font-family="DejaVu Sans, Liberation Sans, sans-serif" font-weight="bold" font-size="9.0">1000</text>
<text transform="translate(45.80 124.68) rotate(0.03)" text-anchor="end" font-family="DejaVu Sans, Liberation Sans, sans-serif" font-weight="bold" font-size="9.0">2000</text>
<text transform="translate(45.80 96.68) rotate(0.03)" text-anchor="end" font-family="DejaVu Sans, Liberation Sans, sans-serif" font-weight="bold" font-size="9.0">3000</text>
<text transform="translate(45.80 68.68) rotate(0.03)" text-anchor="end" font-family="DejaVu Sans, Liberation Sans, sans-serif" font-weight="bold" font-size="9.0">4000</text>
<text transform="translate(45.80 40.68) rotate(0.03)" text-anchor="end" font-family="DejaVu Sans, Liberation Sans, sans-serif" font-weight="bold" font-size="9.0">5000</text>
<text transform="translate(45.80 12.68) rotate(0.03)" text-anchor="end" font-family="DejaVu Sans, Liberation Sans, sans-serif" font-weight="bold" font-size="9.0">6000</text>
<text transform="translate(49.40 189.60) rotate(0.03)" text-anchor="middle" font-family="DejaVu Sans, Liberation Sans, sans-serif" font-weight="bold" font-size="8.7">0</text>
<text transform="translate(103.78 189.60) rotate(0.03)" text-anchor="middle" font-family="DejaVu Sans, Liberation Sans, sans-serif" font-weight="bold" font-size="8.7">1.0</text>
<text transform="translate(158.15 189.60) rotate(0.03)" text-anchor="middle" font-family="DejaVu Sans, Liberation Sans, sans-serif" font-weight="bold" font-size="8.7">2.0</text>
<text transform="translate(212.52 189.60) rotate(0.03)" text-anchor="middle" font-family="DejaVu Sans, Liberation Sans, sans-serif" font-weight="bold" font-size="8.7">3.0</text>
<text transform="translate(266.90 189.60) rotate(0.03)" text-anchor="middle" font-family="DejaVu Sans, Liberation Sans, sans-serif" font-weight="bold" font-size="8.7">4.0</text>
<text transform="translate(162.00 201.00) rotate(0.03)" text-anchor="middle" font-family="DejaVu Sans, Liberation Sans, sans-serif" font-weight="bold" font-size="9.7">Time (s)</text>
<text transform="translate(10.90 92.60) rotate(-90)" text-anchor="middle" font-family="DejaVu Sans, Liberation Sans, sans-serif" font-weight="bold" font-size="9.7">Pressure (kPa)</text>
<path d="M373.45 7.70V174.60M427.60 7.70V174.60M481.75 7.70V174.60M319.30 141.22H535.90M319.30 107.84H535.90M319.30 74.46H535.90M319.30 41.08H535.90" stroke="#f3f3f3" stroke-width="0.8" fill="none"/>
<path d="M330.13 174.60v-1.6M330.13 7.70v1.6M340.96 174.60v-1.6M340.96 7.70v1.6M351.79 174.60v-1.6M351.79 7.70v1.6M362.62 174.60v-1.6M362.62 7.70v1.6M373.45 174.60v-1.6M373.45 7.70v1.6M384.28 174.60v-1.6M384.28 7.70v1.6M395.11 174.60v-1.6M395.11 7.70v1.6M405.94 174.60v-1.6M405.94 7.70v1.6M416.77 174.60v-1.6M416.77 7.70v1.6M427.60 174.60v-1.6M427.60 7.70v1.6M438.43 174.60v-1.6M438.43 7.70v1.6M449.26 174.60v-1.6M449.26 7.70v1.6M460.09 174.60v-1.6M460.09 7.70v1.6M470.92 174.60v-1.6M470.92 7.70v1.6M481.75 174.60v-1.6M481.75 7.70v1.6M492.58 174.60v-1.6M492.58 7.70v1.6M503.41 174.60v-1.6M503.41 7.70v1.6M514.24 174.60v-1.6M514.24 7.70v1.6M525.07 174.60v-1.6M525.07 7.70v1.6M319.30 167.92h1.6M535.90 167.92h-1.6M319.30 161.25h1.6M535.90 161.25h-1.6M319.30 154.57h1.6M535.90 154.57h-1.6M319.30 147.90h1.6M535.90 147.90h-1.6M319.30 141.22h1.6M535.90 141.22h-1.6M319.30 134.54h1.6M535.90 134.54h-1.6M319.30 127.87h1.6M535.90 127.87h-1.6M319.30 121.19h1.6M535.90 121.19h-1.6M319.30 114.52h1.6M535.90 114.52h-1.6M319.30 107.84h1.6M535.90 107.84h-1.6M319.30 101.16h1.6M535.90 101.16h-1.6M319.30 94.49h1.6M535.90 94.49h-1.6M319.30 87.81h1.6M535.90 87.81h-1.6M319.30 81.14h1.6M535.90 81.14h-1.6M319.30 74.46h1.6M535.90 74.46h-1.6M319.30 67.78h1.6M535.90 67.78h-1.6M319.30 61.11h1.6M535.90 61.11h-1.6M319.30 54.43h1.6M535.90 54.43h-1.6M319.30 47.76h1.6M535.90 47.76h-1.6M319.30 41.08h1.6M535.90 41.08h-1.6M319.30 34.40h1.6M535.90 34.40h-1.6M319.30 27.73h1.6M535.90 27.73h-1.6M319.30 21.05h1.6M535.90 21.05h-1.6M319.30 14.38h1.6M535.90 14.38h-1.6" stroke="#b8b8b8" stroke-width="0.6" fill="none"/>
<rect x="319.30" y="7.70" width="216.60" height="166.90" fill="none" stroke="#bcbcbc" stroke-width="0.8"/>
<path d="M319.30 173.93L381.79 173.92L382.22 173.81L382.66 173.59L383.52 172.85L384.39 171.81L386.77 168.50L387.53 167.69L388.29 167.15L388.94 166.94L389.48 166.97L390.02 167.27L391.10 168.20L391.54 168.48L392.08 168.59L392.40 168.42L392.84 167.84L393.27 166.90L395 162.02L395.43 161.20L395.87 160.77L396.08 160.71L396.41 160.82L397.38 161.74L397.71 161.90L397.93 161.90L398.14 161.75L398.47 161.30L399.23 159.73L399.55 159.20L399.88 158.93L400.09 158.93L400.42 159.16L400.74 159.64L401.72 161.77L402.15 162.53L402.37 162.78L402.58 162.90L402.69 162.92L402.80 162.76L403.02 161.59L403.67 155.51L403.88 154.61L403.99 152.07L406.05 56.94L406.37 50.96L406.91 34.20L407.13 30.88L407.24 30.77L407.46 31.65L407.78 35.02L408.11 40.42L409.19 62.22L409.51 66.34L409.73 67.79L409.84 68.08L409.95 68.09L410.06 67.85L410.38 65.75L410.71 61.96L411.57 49.51L411.90 46.49L412.11 45.54L412.22 45.42L412.33 45.50L412.44 45.74L412.65 46.65L413.74 55.22L414.06 56.79L414.17 57.02L414.28 57.10L414.39 57.03L414.50 56.82L414.71 56.01L415.69 49.43L416.01 48.04L416.12 47.83L416.23 47.76L416.45 47.94L416.77 48.88L417.64 53.34L417.96 54.70L418.18 55.25L418.39 55.43L418.50 55.37L418.72 54.84L419.59 50.28L419.80 49.53L419.91 49.33L420.02 49.26L420.24 49.40L420.45 49.81L421.32 52.28L421.54 52.56L421.64 52.60L421.75 52.56L421.97 52.28L422.83 49.81L423.05 49.40L423.27 49.26L423.38 49.29L423.59 49.58L424.46 52.04L424.68 52.45L424.89 52.60L425 52.56L425.22 52.28L426.08 49.81L426.30 49.40L426.52 49.26L426.63 49.29L426.84 49.58L427.71 52.04L427.92 52.45L428.14 52.60L428.25 52.56L428.47 52.28L429.33 49.81L429.55 49.40L429.77 49.26L429.87 49.29L430.09 49.58L430.96 52.04L431.17 52.45L431.39 52.60L431.61 52.45L431.82 52.04L432.69 49.58L432.91 49.29L433.01 49.26L433.23 49.40L433.45 49.81L434.31 52.28L434.53 52.56L434.64 52.60L434.86 52.45L435.07 52.04L435.94 49.58L436.16 49.29L436.26 49.26L436.48 49.40L436.70 49.81L437.56 52.28L437.78 52.56L437.89 52.60L438.11 52.45L438.32 52.04L439.19 49.58L439.40 49.29L439.51 49.26L439.73 49.40L439.95 49.81L440.81 52.28L441.03 52.56L441.14 52.60L441.35 52.45L441.57 52.04L442.44 49.58L442.65 49.29L442.76 49.26L442.98 49.39L443.20 49.78L444.06 52.11L444.28 52.38L444.39 52.41L444.60 52.31L444.82 52.01L445.69 50.23L445.90 50.03L446.01 50L446.23 50.06L446.44 50.21L447.31 51.17L447.64 51.30L448.07 51.21L448.94 50.81L449.26 50.76L469.84 50.76L470.05 50.71L470.38 50.48L471.24 49.43L471.57 49.17L471.89 49.10L472 49.17L472.22 49.50L472.54 50.42L473.63 54.62L473.95 55.30L474.17 55.43L474.28 56.01L474.39 57.66L474.93 72.23L475.04 73.89L475.14 74.46L477.96 159.58L478.07 159.84L478.18 160.60L478.72 167.70L478.93 169.19L479.04 169.25L479.15 169.20L479.37 168.97L480.23 167.41L480.45 167.26L480.67 167.31L480.88 167.54L481.10 167.94L482.18 170.92L482.40 171.36L482.62 171.63L482.83 171.73L483.05 171.69L484.13 171L484.46 170.93L484.67 170.97L484.89 171.11L485.22 171.44L486.30 172.94L486.62 173.19L486.84 173.26L508.82 172.93L535.90 172.26" fill="none" stroke="#000" stroke-width="2.30" stroke-linejoin="round" stroke-linecap="butt"/><path d="M319.30 173.93L381.79 173.92L382.22 173.81L382.66 173.59L383.52 172.85L384.39 171.81L386.77 168.50L387.53 167.69L388.29 167.15L388.94 166.94L389.48 166.97L390.02 167.27L391.10 168.20L391.54 168.48L392.08 168.59L392.40 168.42L392.84 167.84L393.27 166.90L395 162.02L395.43 161.20L395.87 160.77L396.08 160.71L396.41 160.82L397.38 161.74L397.71 161.90L397.93 161.90L398.14 161.75L398.47 161.30L399.23 159.73L399.55 159.20L399.88 158.93L400.09 158.93L400.42 159.16L400.74 159.64L401.72 161.77L402.15 162.53L402.37 162.78L402.58 162.90L402.69 162.92L402.80 162.76L403.02 161.59L403.67 155.51L403.88 154.61L403.99 152.07L406.05 56.94L406.37 50.96L406.91 34.20L407.13 30.88L407.24 30.77L407.46 31.65L407.78 35.02L408.11 40.42L409.19 62.22L409.51 66.34L409.73 67.79L409.84 68.08L409.95 68.09L410.06 67.85L410.38 65.75L410.71 61.96L411.57 49.51L411.90 46.49L412.11 45.54L412.22 45.42L412.33 45.50L412.44 45.74L412.65 46.65L413.74 55.22L414.06 56.79L414.17 57.02L414.28 57.10L414.39 57.03L414.50 56.82L414.71 56.01L415.69 49.43L416.01 48.04L416.12 47.83L416.23 47.76L416.45 47.94L416.77 48.88L417.64 53.34L417.96 54.70L418.18 55.25L418.39 55.43L418.50 55.37L418.72 54.84L419.59 50.28L419.80 49.53L419.91 49.33L420.02 49.26L420.24 49.40L420.45 49.81L421.32 52.28L421.54 52.56L421.64 52.60L421.75 52.56L421.97 52.28L422.83 49.81L423.05 49.40L423.27 49.26L423.38 49.29L423.59 49.58L424.46 52.04L424.68 52.45L424.89 52.60L425 52.56L425.22 52.28L426.08 49.81L426.30 49.40L426.52 49.26L426.63 49.29L426.84 49.58L427.71 52.04L427.92 52.45L428.14 52.60L428.25 52.56L428.47 52.28L429.33 49.81L429.55 49.40L429.77 49.26L429.87 49.29L430.09 49.58L430.96 52.04L431.17 52.45L431.39 52.60L431.61 52.45L431.82 52.04L432.69 49.58L432.91 49.29L433.01 49.26L433.23 49.40L433.45 49.81L434.31 52.28L434.53 52.56L434.64 52.60L434.86 52.45L435.07 52.04L435.94 49.58L436.16 49.29L436.26 49.26L436.48 49.40L436.70 49.81L437.56 52.28L437.78 52.56L437.89 52.60L438.11 52.45L438.32 52.04L439.19 49.58L439.40 49.29L439.51 49.26L439.73 49.40L439.95 49.81L440.81 52.28L441.03 52.56L441.14 52.60L441.35 52.45L441.57 52.04L442.44 49.58L442.65 49.29L442.76 49.26L442.98 49.39L443.20 49.78L444.06 52.11L444.28 52.38L444.39 52.41L444.60 52.31L444.82 52.01L445.69 50.23L445.90 50.03L446.01 50L446.23 50.06L446.44 50.21L447.31 51.17L447.64 51.30L448.07 51.21L448.94 50.81L449.26 50.76L469.84 50.76L470.05 50.71L470.38 50.48L471.24 49.43L471.57 49.17L471.89 49.10L472 49.17L472.22 49.50L472.54 50.42L473.63 54.62L473.95 55.30L474.17 55.43L474.28 56.01L474.39 57.66L474.93 72.23L475.04 73.89L475.14 74.46L477.96 159.58L478.07 159.84L478.18 160.60L478.72 167.70L478.93 169.19L479.04 169.25L479.15 169.20L479.37 168.97L480.23 167.41L480.45 167.26L480.67 167.31L480.88 167.54L481.10 167.94L482.18 170.92L482.40 171.36L482.62 171.63L482.83 171.73L483.05 171.69L484.13 171L484.46 170.93L484.67 170.97L484.89 171.11L485.22 171.44L486.30 172.94L486.62 173.19L486.84 173.26L508.82 172.93L535.90 172.26" fill="none" stroke="#ec7400" stroke-width="1.60" stroke-linejoin="round" stroke-linecap="butt"/>

<path d="M465.00 7.70V174.60" stroke="#ff1818" stroke-width="1.55" stroke-dasharray="3.85 2.90" stroke-dashoffset="5.35" fill="none"/>
<path d="M470.42 7.70V174.60" stroke="#ff1818" stroke-width="1.55" stroke-dasharray="3.85 2.90" stroke-dashoffset="5.35" fill="none"/>
<text transform="translate(313.30 179.77) rotate(0.03)" text-anchor="end" font-family="DejaVu Sans, Liberation Sans, sans-serif" font-weight="bold" font-size="8.7">0</text>
<text transform="translate(313.30 146.39) rotate(0.03)" text-anchor="end" font-family="DejaVu Sans, Liberation Sans, sans-serif" font-weight="bold" font-size="8.7">100</text>
<text transform="translate(313.30 113.01) rotate(0.03)" text-anchor="end" font-family="DejaVu Sans, Liberation Sans, sans-serif" font-weight="bold" font-size="8.7">200</text>
<text transform="translate(313.30 79.63) rotate(0.03)" text-anchor="end" font-family="DejaVu Sans, Liberation Sans, sans-serif" font-weight="bold" font-size="8.7">300</text>
<text transform="translate(313.30 46.25) rotate(0.03)" text-anchor="end" font-family="DejaVu Sans, Liberation Sans, sans-serif" font-weight="bold" font-size="8.7">400</text>
<text transform="translate(313.30 12.87) rotate(0.03)" text-anchor="end" font-family="DejaVu Sans, Liberation Sans, sans-serif" font-weight="bold" font-size="8.7">500</text>
<text transform="translate(319.50 189.60) rotate(0.03)" text-anchor="middle" font-family="DejaVu Sans, Liberation Sans, sans-serif" font-weight="bold" font-size="8.7">0</text>
<text transform="translate(373.65 189.60) rotate(0.03)" text-anchor="middle" font-family="DejaVu Sans, Liberation Sans, sans-serif" font-weight="bold" font-size="8.7">1.0</text>
<text transform="translate(427.80 189.60) rotate(0.03)" text-anchor="middle" font-family="DejaVu Sans, Liberation Sans, sans-serif" font-weight="bold" font-size="8.7">2.0</text>
<text transform="translate(481.95 189.60) rotate(0.03)" text-anchor="middle" font-family="DejaVu Sans, Liberation Sans, sans-serif" font-weight="bold" font-size="8.7">3.0</text>
<text transform="translate(536.10 189.60) rotate(0.03)" text-anchor="middle" font-family="DejaVu Sans, Liberation Sans, sans-serif" font-weight="bold" font-size="8.7">4.0</text>
<text transform="translate(431.30 201.00) rotate(0.03)" text-anchor="middle" font-family="DejaVu Sans, Liberation Sans, sans-serif" font-weight="bold" font-size="9.7">Time (s)</text>
<text transform="translate(290.00 93.00) rotate(-90)" text-anchor="middle" font-family="DejaVu Sans, Liberation Sans, sans-serif" font-weight="bold" font-size="9.7">Thrust (N)</text>
<path d="M103.58 296.40V463.90M157.95 296.40V463.90M212.32 296.40V463.90M49.20 435.98H266.70M49.20 408.07H266.70M49.20 380.15H266.70M49.20 352.23H266.70M49.20 324.32H266.70" stroke="#f3f3f3" stroke-width="0.8" fill="none"/>
<path d="M60.08 463.90v-1.6M60.08 296.40v1.6M70.95 463.90v-1.6M70.95 296.40v1.6M81.83 463.90v-1.6M81.83 296.40v1.6M92.70 463.90v-1.6M92.70 296.40v1.6M103.58 463.90v-1.6M103.58 296.40v1.6M114.45 463.90v-1.6M114.45 296.40v1.6M125.33 463.90v-1.6M125.33 296.40v1.6M136.20 463.90v-1.6M136.20 296.40v1.6M147.07 463.90v-1.6M147.07 296.40v1.6M157.95 463.90v-1.6M157.95 296.40v1.6M168.83 463.90v-1.6M168.83 296.40v1.6M179.70 463.90v-1.6M179.70 296.40v1.6M190.57 463.90v-1.6M190.57 296.40v1.6M201.45 463.90v-1.6M201.45 296.40v1.6M212.32 463.90v-1.6M212.32 296.40v1.6M223.20 463.90v-1.6M223.20 296.40v1.6M234.08 463.90v-1.6M234.08 296.40v1.6M244.95 463.90v-1.6M244.95 296.40v1.6M255.83 463.90v-1.6M255.83 296.40v1.6M49.20 458.32h1.6M266.70 458.32h-1.6M49.20 452.73h1.6M266.70 452.73h-1.6M49.20 447.15h1.6M266.70 447.15h-1.6M49.20 441.57h1.6M266.70 441.57h-1.6M49.20 435.98h1.6M266.70 435.98h-1.6M49.20 430.40h1.6M266.70 430.40h-1.6M49.20 424.82h1.6M266.70 424.82h-1.6M49.20 419.23h1.6M266.70 419.23h-1.6M49.20 413.65h1.6M266.70 413.65h-1.6M49.20 408.07h1.6M266.70 408.07h-1.6M49.20 402.48h1.6M266.70 402.48h-1.6M49.20 396.90h1.6M266.70 396.90h-1.6M49.20 391.32h1.6M266.70 391.32h-1.6M49.20 385.73h1.6M266.70 385.73h-1.6M49.20 380.15h1.6M266.70 380.15h-1.6M49.20 374.57h1.6M266.70 374.57h-1.6M49.20 368.98h1.6M266.70 368.98h-1.6M49.20 363.40h1.6M266.70 363.40h-1.6M49.20 357.82h1.6M266.70 357.82h-1.6M49.20 352.23h1.6M266.70 352.23h-1.6M49.20 346.65h1.6M266.70 346.65h-1.6M49.20 341.07h1.6M266.70 341.07h-1.6M49.20 335.48h1.6M266.70 335.48h-1.6M49.20 329.90h1.6M266.70 329.90h-1.6M49.20 324.32h1.6M266.70 324.32h-1.6M49.20 318.73h1.6M266.70 318.73h-1.6M49.20 313.15h1.6M266.70 313.15h-1.6M49.20 307.57h1.6M266.70 307.57h-1.6M49.20 301.98h1.6M266.70 301.98h-1.6" stroke="#b8b8b8" stroke-width="0.6" fill="none"/>
<rect x="49.20" y="296.40" width="217.50" height="167.50" fill="none" stroke="#bcbcbc" stroke-width="0.8"/>
<path d="M49.20 319.43L109.67 319.45L110.10 319.63L110.43 319.97L114.67 326.46L115.10 326.99L115.43 327.13L115.65 327.08L115.97 326.89L118.80 324.95L119.23 324.78L119.67 324.74L202.32 325.08L202.75 324.88L203.19 324.26L206.78 316.80L207.11 316.38L207.32 316.31L207.54 316.38L207.87 316.65L207.98 315.86L208.30 316.33L209.28 318.33L209.50 318.57L209.82 318.69L210.04 318.61L210.26 318.43L211.13 317.31L211.35 317.13L211.56 317.05L211.78 317.08L212 317.22L212.98 318.39L213.19 318.55L213.41 318.62L213.63 318.57L213.85 318.43L214.83 317.32L215.04 317.18L215.26 317.14L215.48 317.19L215.70 317.34L216.68 318.40L216.89 318.52L217.11 318.55L217.55 318.34L218.42 317.43L218.85 317.22L219.07 317.25L219.29 317.36L220.26 318.32L220.70 318.50L221.13 318.35L222.11 317.45L222.55 317.29L222.98 317.46L223.96 318.33L224.40 318.46L224.72 318.35L225.70 317.53L226.14 317.36L226.57 317.48L227.55 318.27L227.99 318.42L228.42 318.29L229.40 317.54L229.83 317.42L230.27 317.56L231.25 318.28L231.68 318.39L232.12 318.24L232.99 317.62L233.42 317.47L233.86 317.57L234.84 318.23L235.27 318.36L235.71 318.26L236.69 317.63L237.12 317.52L237.56 317.64L238.53 318.25L238.97 318.34L239.40 318.22L240.27 317.69L240.71 317.56L241.14 317.65L242.12 318.21L242.56 318.32L242.99 318.24L243.97 317.69L244.41 317.60L244.84 317.70L245.82 318.23L246.25 318.31L246.69 318.21L247.56 317.75L248 317.64L248.43 317.71L249.41 318.20L249.84 318.30L250.28 318.22L251.26 317.75L251.69 317.67L252.13 317.76L253.11 318.22L253.54 318.29L253.98 318.20L254.85 317.80L255.28 317.70L255.72 317.77L256.69 318.20L257.13 318.29L257.56 318.22L258.44 317.84L258.87 317.73L259.31 317.78L260.39 318.22L260.83 318.29L261.26 318.21L262.13 317.84L262.57 317.76L263 317.81L263.98 318.21L264.42 318.29L264.85 318.23L266.05 317.80L266.70 317.85" fill="none" stroke="#000" stroke-width="2.40" stroke-linejoin="round" stroke-linecap="butt"/><path d="M49.20 319.43L109.67 319.45L110.10 319.63L110.43 319.97L114.67 326.46L115.10 326.99L115.43 327.13L115.65 327.08L115.97 326.89L118.80 324.95L119.23 324.78L119.67 324.74L202.32 325.08L202.75 324.88L203.19 324.26L206.78 316.80L207.11 316.38L207.32 316.31L207.54 316.38L207.87 316.65L207.98 315.86L208.30 316.33L209.28 318.33L209.50 318.57L209.82 318.69L210.04 318.61L210.26 318.43L211.13 317.31L211.35 317.13L211.56 317.05L211.78 317.08L212 317.22L212.98 318.39L213.19 318.55L213.41 318.62L213.63 318.57L213.85 318.43L214.83 317.32L215.04 317.18L215.26 317.14L215.48 317.19L215.70 317.34L216.68 318.40L216.89 318.52L217.11 318.55L217.55 318.34L218.42 317.43L218.85 317.22L219.07 317.25L219.29 317.36L220.26 318.32L220.70 318.50L221.13 318.35L222.11 317.45L222.55 317.29L222.98 317.46L223.96 318.33L224.40 318.46L224.72 318.35L225.70 317.53L226.14 317.36L226.57 317.48L227.55 318.27L227.99 318.42L228.42 318.29L229.40 317.54L229.83 317.42L230.27 317.56L231.25 318.28L231.68 318.39L232.12 318.24L232.99 317.62L233.42 317.47L233.86 317.57L234.84 318.23L235.27 318.36L235.71 318.26L236.69 317.63L237.12 317.52L237.56 317.64L238.53 318.25L238.97 318.34L239.40 318.22L240.27 317.69L240.71 317.56L241.14 317.65L242.12 318.21L242.56 318.32L242.99 318.24L243.97 317.69L244.41 317.60L244.84 317.70L245.82 318.23L246.25 318.31L246.69 318.21L247.56 317.75L248 317.64L248.43 317.71L249.41 318.20L249.84 318.30L250.28 318.22L251.26 317.75L251.69 317.67L252.13 317.76L253.11 318.22L253.54 318.29L253.98 318.20L254.85 317.80L255.28 317.70L255.72 317.77L256.69 318.20L257.13 318.29L257.56 318.22L258.44 317.84L258.87 317.73L259.31 317.78L260.39 318.22L260.83 318.29L261.26 318.21L262.13 317.84L262.57 317.76L263 317.81L263.98 318.21L264.42 318.29L264.85 318.23L266.05 317.80L266.70 317.85" fill="none" stroke="#0000d8" stroke-width="1.60" stroke-linejoin="round" stroke-linecap="butt"/>

<path d="M49.20 330.21L121.30 330.23L121.52 330.30L121.74 330.51L122.06 331.18L124.56 340.11L125 341.20L125.11 341.33L125.33 341.42L125.65 341.29L127.28 340.17L127.61 340.04L128.04 339.98L173.72 339.90L174.37 339.84L174.59 339.69L174.81 339.35L175.13 338.41L177.96 326.71L178.18 326.06L178.39 325.66L178.61 325.51L178.83 325.53L178.94 324.89L179.26 325.21L180.13 326.50L180.46 326.77L180.68 326.82L181.11 326.68L182.09 325.93L182.53 325.83L182.96 325.97L183.83 326.52L184.27 326.63L184.70 326.56L185.68 326.08L186.12 325.99L186.55 326.07L187.53 326.45L187.97 326.51L188.40 326.45L189.38 326.14L189.81 326.10L191.55 326.44L193.40 326.17L195.25 326.39L197.10 326.22L198.84 326.36L200.69 326.26L202.54 326.35L204.39 326.28L206.13 326.34L207.98 326.30L266.70 326.41" fill="none" stroke="#000" stroke-width="2.40" stroke-linejoin="round" stroke-linecap="butt"/><path d="M49.20 330.21L121.30 330.23L121.52 330.30L121.74 330.51L122.06 331.18L124.56 340.11L125 341.20L125.11 341.33L125.33 341.42L125.65 341.29L127.28 340.17L127.61 340.04L128.04 339.98L173.72 339.90L174.37 339.84L174.59 339.69L174.81 339.35L175.13 338.41L177.96 326.71L178.18 326.06L178.39 325.66L178.61 325.51L178.83 325.53L178.94 324.89L179.26 325.21L180.13 326.50L180.46 326.77L180.68 326.82L181.11 326.68L182.09 325.93L182.53 325.83L182.96 325.97L183.83 326.52L184.27 326.63L184.70 326.56L185.68 326.08L186.12 325.99L186.55 326.07L187.53 326.45L187.97 326.51L188.40 326.45L189.38 326.14L189.81 326.10L191.55 326.44L193.40 326.17L195.25 326.39L197.10 326.22L198.84 326.36L200.69 326.26L202.54 326.35L204.39 326.28L206.13 326.34L207.98 326.30L266.70 326.41" fill="none" stroke="#00a810" stroke-width="1.60" stroke-linejoin="round" stroke-linecap="butt"/>

<path d="M49.20 461.22L109.56 461.22L110.32 461.27L112.93 461.73L113.69 461.80L130.33 461.80L130.76 461.71L131.09 461.55L132.07 460.78L132.61 460.05L135.55 455.47L135.98 455.05L136.42 454.96L139.35 455.13L172.85 455.03L173.83 455.07L175.46 455.44L176 455.74L179.92 460.38L180.79 461.26L181.44 461.47L185.25 461.93L212.43 461.80L266.70 461.11" fill="none" stroke="#000" stroke-width="2.10" stroke-linejoin="round" stroke-linecap="butt"/><path d="M49.20 461.22L109.56 461.22L110.32 461.27L112.93 461.73L113.69 461.80L130.33 461.80L130.76 461.71L131.09 461.55L132.07 460.78L132.61 460.05L135.55 455.47L135.98 455.05L136.42 454.96L139.35 455.13L172.85 455.03L173.83 455.07L175.46 455.44L176 455.74L179.92 460.38L180.79 461.26L181.44 461.47L185.25 461.93L212.43 461.80L266.70 461.11" fill="none" stroke="#f00000" stroke-width="1.60" stroke-linejoin="round" stroke-linecap="butt"/>

<path d="M49.20 461.22L109.56 461.22L110.32 461.31L112.93 462.16L113.69 462.30L130.33 462.30L131.20 462.13L131.96 461.83L132.39 461.54L132.94 460.93L135.87 457.01L136.20 456.70L136.63 456.55L173.07 456.42L174.15 456.52L175.35 456.80L175.78 456.97L176.33 457.45L178.72 460.30L179.26 460.82L179.81 461.13L181.88 462.11L182.31 462.28L182.75 462.35L212.43 462.45L266.70 462" fill="none" stroke="#000" stroke-width="2.10" stroke-linejoin="round" stroke-linecap="butt"/><path d="M49.20 461.22L109.56 461.22L110.32 461.31L112.93 462.16L113.69 462.30L130.33 462.30L131.20 462.13L131.96 461.83L132.39 461.54L132.94 460.93L135.87 457.01L136.20 456.70L136.63 456.55L173.07 456.42L174.15 456.52L175.35 456.80L175.78 456.97L176.33 457.45L178.72 460.30L179.26 460.82L179.81 461.13L181.88 462.11L182.31 462.28L182.75 462.35L212.43 462.45L266.70 462" fill="none" stroke="#00d4d4" stroke-width="1.70" stroke-linejoin="round" stroke-linecap="butt"/>

<path d="M49.20 461.22L108.90 461.22L109.56 461.14L109.77 460.89L109.99 460.21L110.32 457.92L112.17 436.16L112.82 430.36L114.02 421.10L114.34 419.40L114.67 418.30L117.28 411.97L117.71 411.25L118.15 410.84L121.74 408.34L122.17 408.08L122.50 407.98L136.42 407.45L168.93 407.46L200.69 407.89L201.34 407.97L201.56 408.14L201.78 408.49L202.21 409.74L203.19 413.39L203.62 415.84L204.06 420.49L205.37 438.38L206.02 445.37L206.45 448.81L206.89 450.74L208.19 454.76L208.63 455.72L208.85 456.02L209.28 456.41L211.56 458.12L212 458.29L212.43 458.33L228.86 458.82L266.70 459.21" fill="none" stroke="#000" stroke-width="2.40" stroke-linejoin="round" stroke-linecap="butt"/><path d="M49.20 461.22L108.90 461.22L109.56 461.14L109.77 460.89L109.99 460.21L110.32 457.92L112.17 436.16L112.82 430.36L114.02 421.10L114.34 419.40L114.67 418.30L117.28 411.97L117.71 411.25L118.15 410.84L121.74 408.34L122.17 408.08L122.50 407.98L136.42 407.45L168.93 407.46L200.69 407.89L201.34 407.97L201.56 408.14L201.78 408.49L202.21 409.74L203.19 413.39L203.62 415.84L204.06 420.49L205.37 438.38L206.02 445.37L206.45 448.81L206.89 450.74L208.19 454.76L208.63 455.72L208.85 456.02L209.28 456.41L211.56 458.12L212 458.29L212.43 458.33L228.86 458.82L266.70 459.21" fill="none" stroke="#a80088" stroke-width="1.40" stroke-linejoin="round" stroke-linecap="butt"/>

<path d="M49.20 461.22L109.56 461.22L110.32 461.28L112.93 461.85L113.58 461.94L120.54 461.95L121.08 461.89L121.41 461.58L121.74 460.66L121.95 459.49L122.17 457.54L122.50 452.39L123.37 433.85L124.02 424.68L124.78 415.42L125.11 412.82L125.43 411.31L126.09 409.36L126.41 408.65L126.63 408.33L127.06 407.98L128.48 407.17L131.31 405.98L134.13 403.93L134.79 403.53L137.40 402.24L138.38 401.95L145.88 400.46L153.82 399.67L172.52 398.84L172.96 398.91L173.18 399.13L173.39 399.58L173.61 400.31L174.81 406.03L175.24 408.86L175.57 412.17L175.89 416.41L177.85 445.14L178.07 447.60L178.39 450.07L178.72 451.63L179.59 455.05L180.24 457.12L180.57 457.72L181 458.32L182.96 460.82L183.51 461.36L183.83 461.50L184.38 461.53L206.78 461.66L228.75 461.11L266.70 460.83" fill="none" stroke="#000" stroke-width="2.40" stroke-linejoin="round" stroke-linecap="butt"/><path d="M49.20 461.22L109.56 461.22L110.32 461.28L112.93 461.85L113.58 461.94L120.54 461.95L121.08 461.89L121.41 461.58L121.74 460.66L121.95 459.49L122.17 457.54L122.50 452.39L123.37 433.85L124.02 424.68L124.78 415.42L125.11 412.82L125.43 411.31L126.09 409.36L126.41 408.65L126.63 408.33L127.06 407.98L128.48 407.17L131.31 405.98L134.13 403.93L134.79 403.53L137.40 402.24L138.38 401.95L145.88 400.46L153.82 399.67L172.52 398.84L172.96 398.91L173.18 399.13L173.39 399.58L173.61 400.31L174.81 406.03L175.24 408.86L175.57 412.17L175.89 416.41L177.85 445.14L178.07 447.60L178.39 450.07L178.72 451.63L179.59 455.05L180.24 457.12L180.57 457.72L181 458.32L182.96 460.82L183.51 461.36L183.83 461.50L184.38 461.53L206.78 461.66L228.75 461.11L266.70 460.83" fill="none" stroke="#843c00" stroke-width="1.60" stroke-linejoin="round" stroke-linecap="butt"/>

<path d="M168.68 296.40V463.90" stroke="#ff1818" stroke-width="1.45" stroke-dasharray="3.50 3.10" stroke-dashoffset="3.20" fill="none"/>
<path d="M174.11 296.40V463.90" stroke="#ff1818" stroke-width="1.45" stroke-dasharray="3.50 3.10" stroke-dashoffset="3.20" fill="none"/>
<text transform="translate(45.80 467.48) rotate(0.03)" text-anchor="end" font-family="DejaVu Sans, Liberation Sans, sans-serif" font-weight="bold" font-size="9.0">0</text>
<text transform="translate(45.80 439.56) rotate(0.03)" text-anchor="end" font-family="DejaVu Sans, Liberation Sans, sans-serif" font-weight="bold" font-size="9.0">1000</text>
<text transform="translate(45.80 411.65) rotate(0.03)" text-anchor="end" font-family="DejaVu Sans, Liberation Sans, sans-serif" font-weight="bold" font-size="9.0">2000</text>
<text transform="translate(45.80 383.73) rotate(0.03)" text-anchor="end" font-family="DejaVu Sans, Liberation Sans, sans-serif" font-weight="bold" font-size="9.0">3000</text>
<text transform="translate(45.80 355.81) rotate(0.03)" text-anchor="end" font-family="DejaVu Sans, Liberation Sans, sans-serif" font-weight="bold" font-size="9.0">4000</text>
<text transform="translate(45.80 327.90) rotate(0.03)" text-anchor="end" font-family="DejaVu Sans, Liberation Sans, sans-serif" font-weight="bold" font-size="9.0">5000</text>
<text transform="translate(45.80 299.98) rotate(0.03)" text-anchor="end" font-family="DejaVu Sans, Liberation Sans, sans-serif" font-weight="bold" font-size="9.0">6000</text>
<text transform="translate(49.40 476.30) rotate(0.03)" text-anchor="middle" font-family="DejaVu Sans, Liberation Sans, sans-serif" font-weight="bold" font-size="8.7">0</text>
<text transform="translate(103.78 476.30) rotate(0.03)" text-anchor="middle" font-family="DejaVu Sans, Liberation Sans, sans-serif" font-weight="bold" font-size="8.7">1.0</text>
<text transform="translate(158.15 476.30) rotate(0.03)" text-anchor="middle" font-family="DejaVu Sans, Liberation Sans, sans-serif" font-weight="bold" font-size="8.7">2.0</text>
<text transform="translate(212.52 476.30) rotate(0.03)" text-anchor="middle" font-family="DejaVu Sans, Liberation Sans, sans-serif" font-weight="bold" font-size="8.7">3.0</text>
<text transform="translate(266.90 476.30) rotate(0.03)" text-anchor="middle" font-family="DejaVu Sans, Liberation Sans, sans-serif" font-weight="bold" font-size="8.7">4.0</text>
<text transform="translate(162.00 488.90) rotate(0.03)" text-anchor="middle" font-family="DejaVu Sans, Liberation Sans, sans-serif" font-weight="bold" font-size="9.7">Time (s)</text>
<text transform="translate(11.00 380.30) rotate(-90)" text-anchor="middle" font-family="DejaVu Sans, Liberation Sans, sans-serif" font-weight="bold" font-size="9.7">Pressure (kPa)</text>
<path d="M373.07 296.50V463.50M427.35 296.50V463.50M481.62 296.50V463.50M318.80 430.10H535.90M318.80 396.70H535.90M318.80 363.30H535.90M318.80 329.90H535.90" stroke="#f3f3f3" stroke-width="0.8" fill="none"/>
<path d="M329.66 463.50v-1.6M329.66 296.50v1.6M340.51 463.50v-1.6M340.51 296.50v1.6M351.37 463.50v-1.6M351.37 296.50v1.6M362.22 463.50v-1.6M362.22 296.50v1.6M373.07 463.50v-1.6M373.07 296.50v1.6M383.93 463.50v-1.6M383.93 296.50v1.6M394.79 463.50v-1.6M394.79 296.50v1.6M405.64 463.50v-1.6M405.64 296.50v1.6M416.50 463.50v-1.6M416.50 296.50v1.6M427.35 463.50v-1.6M427.35 296.50v1.6M438.20 463.50v-1.6M438.20 296.50v1.6M449.06 463.50v-1.6M449.06 296.50v1.6M459.91 463.50v-1.6M459.91 296.50v1.6M470.77 463.50v-1.6M470.77 296.50v1.6M481.62 463.50v-1.6M481.62 296.50v1.6M492.48 463.50v-1.6M492.48 296.50v1.6M503.34 463.50v-1.6M503.34 296.50v1.6M514.19 463.50v-1.6M514.19 296.50v1.6M525.04 463.50v-1.6M525.04 296.50v1.6M318.80 456.82h1.6M535.90 456.82h-1.6M318.80 450.14h1.6M535.90 450.14h-1.6M318.80 443.46h1.6M535.90 443.46h-1.6M318.80 436.78h1.6M535.90 436.78h-1.6M318.80 430.10h1.6M535.90 430.10h-1.6M318.80 423.42h1.6M535.90 423.42h-1.6M318.80 416.74h1.6M535.90 416.74h-1.6M318.80 410.06h1.6M535.90 410.06h-1.6M318.80 403.38h1.6M535.90 403.38h-1.6M318.80 396.70h1.6M535.90 396.70h-1.6M318.80 390.02h1.6M535.90 390.02h-1.6M318.80 383.34h1.6M535.90 383.34h-1.6M318.80 376.66h1.6M535.90 376.66h-1.6M318.80 369.98h1.6M535.90 369.98h-1.6M318.80 363.30h1.6M535.90 363.30h-1.6M318.80 356.62h1.6M535.90 356.62h-1.6M318.80 349.94h1.6M535.90 349.94h-1.6M318.80 343.26h1.6M535.90 343.26h-1.6M318.80 336.58h1.6M535.90 336.58h-1.6M318.80 329.90h1.6M535.90 329.90h-1.6M318.80 323.22h1.6M535.90 323.22h-1.6M318.80 316.54h1.6M535.90 316.54h-1.6M318.80 309.86h1.6M535.90 309.86h-1.6M318.80 303.18h1.6M535.90 303.18h-1.6" stroke="#b8b8b8" stroke-width="0.6" fill="none"/>
<rect x="318.80" y="296.50" width="217.10" height="167.00" fill="none" stroke="#bcbcbc" stroke-width="0.8"/>
<path d="M318.80 463.17L380.56 463.16L381 463.02L381.43 462.75L381.87 462.33L382.30 461.80L383.17 460.42L385.02 456.95L385.78 455.66L386.64 454.53L387.08 454.15L387.40 453.96L387.84 453.82L388.38 453.85L389.79 454.37L390.23 454.47L392.72 454.47L393.16 454.18L394.13 453.01L394.35 452.86L394.57 452.81L394.89 452.90L395.22 453.16L396.41 454.57L396.74 454.78L397.06 454.78L397.28 454.54L397.61 453.74L398.80 448.91L399.13 447.96L399.45 447.50L399.67 447.51L400 448.10L401.08 452.36L401.41 453.05L401.52 453.14L401.62 453.09L401.84 451.73L402.38 444.88L402.60 443.52L402.71 440.39L404.66 329.90L404.77 329.08L404.88 326.74L405.42 306.01L405.53 303.66L405.64 302.85L405.75 303L405.97 304.23L406.29 308.18L407.38 330.15L407.70 335.49L408.03 338.63L408.14 339.10L408.25 339.25L408.35 339.13L408.46 338.78L408.68 337.41L409.01 334L409.76 324.26L410.09 321.62L410.31 320.91L410.42 320.89L410.52 321L410.74 321.49L411.83 326.44L412.04 327.03L412.26 327.23L412.37 327.19L412.59 326.90L413.35 324.79L413.67 324.26L419.32 324.21L419.53 324.08L419.75 323.85L420.62 322.52L420.84 322.30L421.05 322.19L421.27 322.24L421.49 322.52L422.47 325.30L422.68 325.72L422.90 325.92L423.12 325.85L423.33 325.54L424.31 322.75L424.53 322.35L424.74 322.19L424.96 322.28L425.18 322.63L426.16 325.42L426.37 325.80L426.59 325.93L426.81 325.80L427.02 325.42L428 322.63L428.22 322.28L428.44 322.19L428.65 322.35L428.87 322.75L429.74 325.30L429.96 325.72L430.17 325.92L430.39 325.85L430.61 325.54L431.58 322.75L431.80 322.35L432.02 322.19L432.23 322.28L432.45 322.63L433.43 325.42L433.65 325.80L433.86 325.93L434.08 325.80L434.30 325.42L435.17 322.88L435.38 322.43L435.60 322.20L435.82 322.24L436.03 322.52L437.01 325.30L437.23 325.72L437.45 325.92L437.66 325.85L437.88 325.54L438.86 322.75L439.07 322.35L439.29 322.19L439.51 322.28L439.72 322.63L440.70 325.42L440.92 325.80L441.14 325.93L441.35 325.80L441.57 325.42L442.44 322.88L442.66 322.43L442.87 322.20L443.20 322.22L443.52 322.38L444.83 323.59L445.15 323.80L445.59 323.94L445.69 324.33L445.91 326.19L446.56 334.86L446.78 336.38L446.89 336.58L448.84 392.35L453.29 447.13L453.40 447.28L453.62 448.38L454.38 456.15L454.60 457.50L454.70 457.79L454.81 457.82L455.03 457.69L455.46 456.94L455.79 456.04L456.88 452.44L457.31 451.48L457.64 451.16L457.74 451.14L457.96 451.22L458.29 451.64L459.59 454.83L459.91 455.33L460.24 455.48L460.46 455.39L460.78 455L461.98 452.37L462.30 451.86L462.63 451.65L462.85 451.68L463.17 452L463.50 452.58L464.47 454.81L464.80 455.29L465.13 455.48L465.45 455.35L465.78 454.91L466.86 452.47L467.19 451.93L467.40 451.72L467.73 451.66L468.06 451.93L468.49 452.70L469.47 454.91L469.79 455.35L470.12 455.48L470.44 455.29L470.77 454.81L471.75 452.58L472.07 452L472.40 451.68L472.62 451.65L472.83 451.76L473.05 452.02L473.48 452.94L474.03 454.71L475.11 459.14L475.65 461.07L476.20 462.37L476.41 462.67L476.63 462.81L503.33 462.83L508.76 463.17L535.90 463.17" fill="none" stroke="#000" stroke-width="2.30" stroke-linejoin="round" stroke-linecap="butt"/><path d="M318.80 463.17L380.56 463.16L381 463.02L381.43 462.75L381.87 462.33L382.30 461.80L383.17 460.42L385.02 456.95L385.78 455.66L386.64 454.53L387.08 454.15L387.40 453.96L387.84 453.82L388.38 453.85L389.79 454.37L390.23 454.47L392.72 454.47L393.16 454.18L394.13 453.01L394.35 452.86L394.57 452.81L394.89 452.90L395.22 453.16L396.41 454.57L396.74 454.78L397.06 454.78L397.28 454.54L397.61 453.74L398.80 448.91L399.13 447.96L399.45 447.50L399.67 447.51L400 448.10L401.08 452.36L401.41 453.05L401.52 453.14L401.62 453.09L401.84 451.73L402.38 444.88L402.60 443.52L402.71 440.39L404.66 329.90L404.77 329.08L404.88 326.74L405.42 306.01L405.53 303.66L405.64 302.85L405.75 303L405.97 304.23L406.29 308.18L407.38 330.15L407.70 335.49L408.03 338.63L408.14 339.10L408.25 339.25L408.35 339.13L408.46 338.78L408.68 337.41L409.01 334L409.76 324.26L410.09 321.62L410.31 320.91L410.42 320.89L410.52 321L410.74 321.49L411.83 326.44L412.04 327.03L412.26 327.23L412.37 327.19L412.59 326.90L413.35 324.79L413.67 324.26L419.32 324.21L419.53 324.08L419.75 323.85L420.62 322.52L420.84 322.30L421.05 322.19L421.27 322.24L421.49 322.52L422.47 325.30L422.68 325.72L422.90 325.92L423.12 325.85L423.33 325.54L424.31 322.75L424.53 322.35L424.74 322.19L424.96 322.28L425.18 322.63L426.16 325.42L426.37 325.80L426.59 325.93L426.81 325.80L427.02 325.42L428 322.63L428.22 322.28L428.44 322.19L428.65 322.35L428.87 322.75L429.74 325.30L429.96 325.72L430.17 325.92L430.39 325.85L430.61 325.54L431.58 322.75L431.80 322.35L432.02 322.19L432.23 322.28L432.45 322.63L433.43 325.42L433.65 325.80L433.86 325.93L434.08 325.80L434.30 325.42L435.17 322.88L435.38 322.43L435.60 322.20L435.82 322.24L436.03 322.52L437.01 325.30L437.23 325.72L437.45 325.92L437.66 325.85L437.88 325.54L438.86 322.75L439.07 322.35L439.29 322.19L439.51 322.28L439.72 322.63L440.70 325.42L440.92 325.80L441.14 325.93L441.35 325.80L441.57 325.42L442.44 322.88L442.66 322.43L442.87 322.20L443.20 322.22L443.52 322.38L444.83 323.59L445.15 323.80L445.59 323.94L445.69 324.33L445.91 326.19L446.56 334.86L446.78 336.38L446.89 336.58L448.84 392.35L453.29 447.13L453.40 447.28L453.62 448.38L454.38 456.15L454.60 457.50L454.70 457.79L454.81 457.82L455.03 457.69L455.46 456.94L455.79 456.04L456.88 452.44L457.31 451.48L457.64 451.16L457.74 451.14L457.96 451.22L458.29 451.64L459.59 454.83L459.91 455.33L460.24 455.48L460.46 455.39L460.78 455L461.98 452.37L462.30 451.86L462.63 451.65L462.85 451.68L463.17 452L463.50 452.58L464.47 454.81L464.80 455.29L465.13 455.48L465.45 455.35L465.78 454.91L466.86 452.47L467.19 451.93L467.40 451.72L467.73 451.66L468.06 451.93L468.49 452.70L469.47 454.91L469.79 455.35L470.12 455.48L470.44 455.29L470.77 454.81L471.75 452.58L472.07 452L472.40 451.68L472.62 451.65L472.83 451.76L473.05 452.02L473.48 452.94L474.03 454.71L475.11 459.14L475.65 461.07L476.20 462.37L476.41 462.67L476.63 462.81L503.33 462.83L508.76 463.17L535.90 463.17" fill="none" stroke="#ec7400" stroke-width="1.60" stroke-linejoin="round" stroke-linecap="butt"/>

<path d="M437.81 296.50V463.50" stroke="#ff1818" stroke-width="1.45" stroke-dasharray="3.45 3.10" stroke-dashoffset="3.05" fill="none"/>
<path d="M443.23 296.50V463.50" stroke="#ff1818" stroke-width="1.45" stroke-dasharray="3.45 3.10" stroke-dashoffset="3.05" fill="none"/>
<text transform="translate(313.60 467.07) rotate(0.03)" text-anchor="end" font-family="DejaVu Sans, Liberation Sans, sans-serif" font-weight="bold" font-size="8.7">0</text>
<text transform="translate(313.60 433.67) rotate(0.03)" text-anchor="end" font-family="DejaVu Sans, Liberation Sans, sans-serif" font-weight="bold" font-size="8.7">100</text>
<text transform="translate(313.60 400.27) rotate(0.03)" text-anchor="end" font-family="DejaVu Sans, Liberation Sans, sans-serif" font-weight="bold" font-size="8.7">200</text>
<text transform="translate(313.60 366.87) rotate(0.03)" text-anchor="end" font-family="DejaVu Sans, Liberation Sans, sans-serif" font-weight="bold" font-size="8.7">300</text>
<text transform="translate(313.60 333.47) rotate(0.03)" text-anchor="end" font-family="DejaVu Sans, Liberation Sans, sans-serif" font-weight="bold" font-size="8.7">400</text>
<text transform="translate(313.60 300.07) rotate(0.03)" text-anchor="end" font-family="DejaVu Sans, Liberation Sans, sans-serif" font-weight="bold" font-size="8.7">500</text>
<text transform="translate(319.00 476.20) rotate(0.03)" text-anchor="middle" font-family="DejaVu Sans, Liberation Sans, sans-serif" font-weight="bold" font-size="8.7">0</text>
<text transform="translate(373.27 476.20) rotate(0.03)" text-anchor="middle" font-family="DejaVu Sans, Liberation Sans, sans-serif" font-weight="bold" font-size="8.7">1.0</text>
<text transform="translate(427.55 476.20) rotate(0.03)" text-anchor="middle" font-family="DejaVu Sans, Liberation Sans, sans-serif" font-weight="bold" font-size="8.7">2.0</text>
<text transform="translate(481.82 476.20) rotate(0.03)" text-anchor="middle" font-family="DejaVu Sans, Liberation Sans, sans-serif" font-weight="bold" font-size="8.7">3.0</text>
<text transform="translate(536.10 476.20) rotate(0.03)" text-anchor="middle" font-family="DejaVu Sans, Liberation Sans, sans-serif" font-weight="bold" font-size="8.7">4.0</text>
<text transform="translate(431.30 488.90) rotate(0.03)" text-anchor="middle" font-family="DejaVu Sans, Liberation Sans, sans-serif" font-weight="bold" font-size="9.7">Time (s)</text>
<text transform="translate(289.60 379.80) rotate(-90)" text-anchor="middle" font-family="DejaVu Sans, Liberation Sans, sans-serif" font-weight="bold" font-size="9.7">Thrust (N)</text>
<rect x="201.6" y="210.4" width="146.2" height="55.1" fill="#fff" stroke="#222" stroke-width="0.9"/>
<path d="M209.30 215.90h11.6" stroke="#000" stroke-width="3.8" stroke-linecap="round"/><path d="M209.30 215.90h11.6" stroke="#0000ff" stroke-width="2.1" stroke-linecap="round"/>
<text transform="translate(226.2 219.40) rotate(0.03)" font-family="DejaVu Sans, Liberation Sans, sans-serif" font-size="9">p<tspan dx="0.3" dy="2.4" font-weight="bold" font-size="4.5">GO2,Orifice</tspan></text>
<path d="M209.30 229.90h11.6" stroke="#000" stroke-width="3.8" stroke-linecap="round"/><path d="M209.30 229.90h11.6" stroke="#00ff00" stroke-width="2.1" stroke-linecap="round"/>
<text transform="translate(226.2 233.40) rotate(0.03)" font-family="DejaVu Sans, Liberation Sans, sans-serif" font-size="9">p<tspan dx="0.3" dy="2.4" font-weight="bold" font-size="4.5">GCH4,Orifice</tspan></text>
<path d="M209.30 243.50h11.6" stroke="#000" stroke-width="3.8" stroke-linecap="round"/><path d="M209.30 243.50h11.6" stroke="#ff00cc" stroke-width="2.1" stroke-linecap="round"/>
<text transform="translate(226.2 247.00) rotate(0.03)" font-family="DejaVu Sans, Liberation Sans, sans-serif" font-size="9">p<tspan dx="0.3" dy="2.4" font-weight="bold" font-size="4.5">GO2,Plenum</tspan></text>
<path d="M209.30 256.00h11.6" stroke="#000" stroke-width="3.8" stroke-linecap="round"/><path d="M209.30 256.00h11.6" stroke="#964B00" stroke-width="2.1" stroke-linecap="round"/>
<text transform="translate(226.2 259.50) rotate(0.03)" font-family="DejaVu Sans, Liberation Sans, sans-serif" font-size="9">p<tspan dx="0.3" dy="2.4" font-weight="bold" font-size="4.5">GCH4,Plenum</tspan></text>
<path d="M290.70 215.90h11.6" stroke="#000" stroke-width="3.8" stroke-linecap="round"/><path d="M290.70 215.90h11.6" stroke="#ff0000" stroke-width="2.1" stroke-linecap="round"/>
<text transform="translate(307.6 219.40) rotate(0.03)" font-family="DejaVu Sans, Liberation Sans, sans-serif" font-size="9">p<tspan dx="0.3" dy="2.4" font-weight="bold" font-size="4.5">CTAP1</tspan></text>
<path d="M290.70 229.90h11.6" stroke="#000" stroke-width="3.8" stroke-linecap="round"/><path d="M290.70 229.90h11.6" stroke="#00ffff" stroke-width="2.1" stroke-linecap="round"/>
<text transform="translate(307.6 233.40) rotate(0.03)" font-family="DejaVu Sans, Liberation Sans, sans-serif" font-size="9">p<tspan dx="0.3" dy="2.4" font-weight="bold" font-size="4.5">CTAP2</tspan></text>
<path d="M290.70 243.70h11.6" stroke="#000" stroke-width="3.8" stroke-linecap="round"/><path d="M290.70 243.70h11.6" stroke="#ff8c00" stroke-width="2.1" stroke-linecap="round"/>
<text transform="translate(307.6 247.4) rotate(0.03)" font-family="DejaVu Sans, Liberation Sans, sans-serif" font-size="9.4">Thrust</text>
<text transform="translate(45.90 278.80) rotate(0.03)" text-anchor="start" font-family="DejaVu Sans, Liberation Sans, sans-serif" font-weight="bold" font-size="13.2" letter-spacing="0.4">(a)</text><text transform="translate(45.90 507.00) rotate(0.03)" text-anchor="start" font-family="DejaVu Sans, Liberation Sans, sans-serif" font-weight="bold" font-size="13.2" letter-spacing="0.4">(b)</text>
</svg></body></html>
